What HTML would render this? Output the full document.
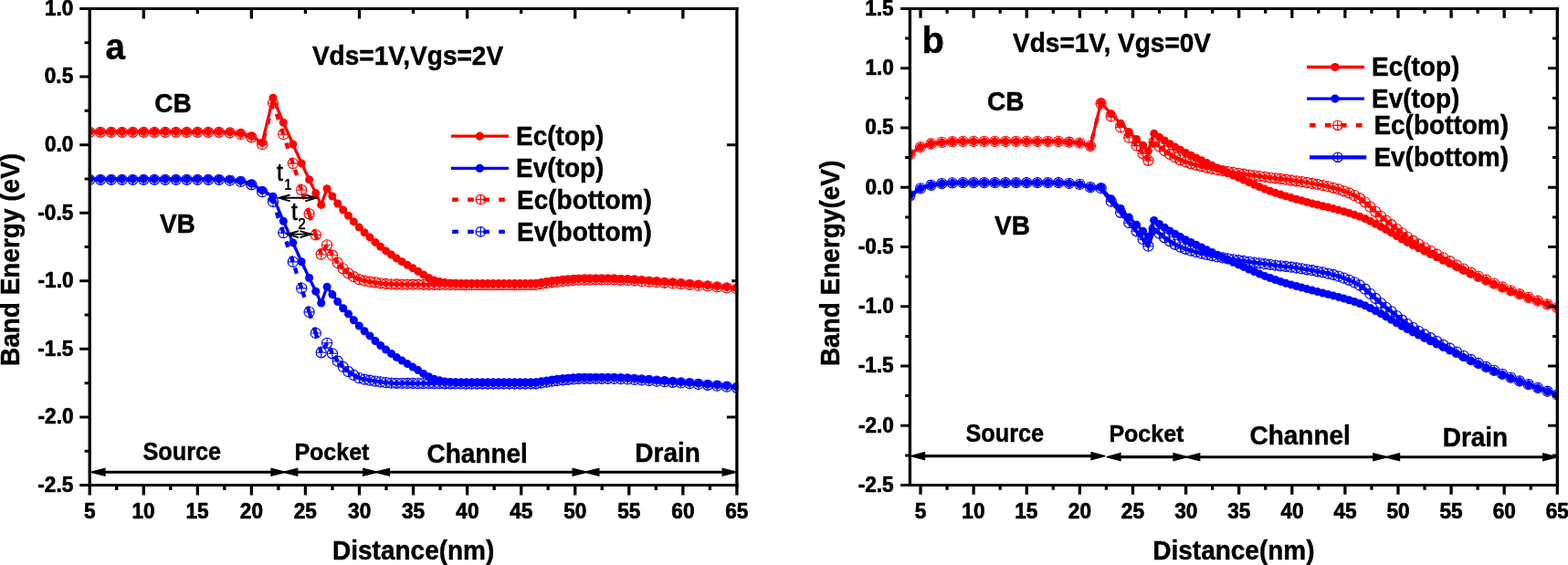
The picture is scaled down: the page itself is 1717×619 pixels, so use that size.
<!DOCTYPE html>
<html lang="en"><head><meta charset="utf-8"><title>Band Energy vs Distance</title>
<style>
html,body{margin:0;padding:0;background:#fff;}
body{width:1717px;height:619px;overflow:hidden;}
svg{display:block;font-family:"Liberation Sans",Arial,Helvetica,sans-serif;fill:#000;}
text{stroke:#000;stroke-linejoin:round;}
</style></head><body>
<svg width="1717" height="619" viewBox="0 0 1717 619">
<rect width="1717" height="619" fill="#fff"/>
<defs><clipPath id="cl"><rect x="98.2" y="9.5" width="710.2" height="521.9"/></clipPath><clipPath id="cr"><rect x="995.0" y="9.5" width="711.7" height="521.9"/></clipPath></defs>
<g clip-path="url(#cl)">
<polyline points="98.2,144.2 110.0,144.2 121.8,144.2 133.6,144.2 145.4,144.2 157.3,144.2 169.1,144.2 180.9,144.2 192.7,144.2 204.5,144.2 216.3,144.2 228.1,144.2 239.9,144.2 251.8,144.9 263.6,146.1 275.4,149.2 287.2,156.4 299.0,107.3 310.3,134.3 320.8,158.0 330.2,178.9 338.6,196.8 345.8,211.6 351.7,224.4 358.1,206.7 363.9,215.0 369.8,223.0 375.7,230.0 381.5,236.2 387.4,242.9 393.3,249.1 399.1,254.7 405.0,259.9 410.9,265.4 416.7,270.3 422.6,274.9 428.5,279.1 434.3,283.1 440.2,286.8 446.1,290.3 452.0,293.7 457.8,297.2 463.7,301.0 469.6,304.5 475.4,307.0 481.3,308.5 487.2,309.6 493.0,310.2 498.9,310.6 504.8,310.8 510.6,310.9 516.5,310.9 522.4,310.9 528.2,310.9 534.1,310.9 540.0,310.9 545.9,310.9 551.7,310.9 557.6,310.9 563.5,310.9 569.3,310.9 575.2,310.9 581.1,310.9 586.9,310.7 592.8,310.0 598.7,309.0 604.5,308.1 610.4,307.4 616.3,306.8 622.1,306.3 628.0,305.9 633.9,305.6 639.9,305.4 646.0,305.4 652.4,305.4 658.9,305.4 665.7,305.4 672.6,305.5 679.8,305.7 687.2,306.1 694.8,306.6 702.7,307.1 710.8,307.7 719.1,308.3 727.7,308.9 736.6,309.5 745.7,310.2 755.2,311.0 764.9,311.8 774.9,312.6 785.3,313.6 795.9,314.6 806.9,315.7" fill="none" stroke="#ff0000" stroke-width="3.3" stroke-linejoin="round"/>
<g fill="#ff0000"><circle cx="98.2" cy="144.2" r="4.5"/><circle cx="110.0" cy="144.2" r="4.5"/><circle cx="121.8" cy="144.2" r="4.5"/><circle cx="133.6" cy="144.2" r="4.5"/><circle cx="145.4" cy="144.2" r="4.5"/><circle cx="157.3" cy="144.2" r="4.5"/><circle cx="169.1" cy="144.2" r="4.5"/><circle cx="180.9" cy="144.2" r="4.5"/><circle cx="192.7" cy="144.2" r="4.5"/><circle cx="204.5" cy="144.2" r="4.5"/><circle cx="216.3" cy="144.2" r="4.5"/><circle cx="228.1" cy="144.2" r="4.5"/><circle cx="239.9" cy="144.2" r="4.5"/><circle cx="251.8" cy="144.9" r="4.5"/><circle cx="263.6" cy="146.1" r="4.5"/><circle cx="275.4" cy="149.2" r="4.5"/><circle cx="287.2" cy="156.4" r="4.5"/><circle cx="299.0" cy="107.3" r="4.5"/><circle cx="310.3" cy="134.3" r="4.5"/><circle cx="320.8" cy="158.0" r="4.5"/><circle cx="330.2" cy="178.9" r="4.5"/><circle cx="338.6" cy="196.8" r="4.5"/><circle cx="345.8" cy="211.6" r="4.5"/><circle cx="351.7" cy="224.4" r="4.5"/><circle cx="358.1" cy="206.7" r="4.5"/><circle cx="363.9" cy="215.0" r="4.5"/><circle cx="369.8" cy="223.0" r="4.5"/><circle cx="375.7" cy="230.0" r="4.5"/><circle cx="381.5" cy="236.2" r="4.5"/><circle cx="387.4" cy="242.9" r="4.5"/><circle cx="393.3" cy="249.1" r="4.5"/><circle cx="399.1" cy="254.7" r="4.5"/><circle cx="405.0" cy="259.9" r="4.5"/><circle cx="410.9" cy="265.4" r="4.5"/><circle cx="416.7" cy="270.3" r="4.5"/><circle cx="422.6" cy="274.9" r="4.5"/><circle cx="428.5" cy="279.1" r="4.5"/><circle cx="434.3" cy="283.1" r="4.5"/><circle cx="440.2" cy="286.8" r="4.5"/><circle cx="446.1" cy="290.3" r="4.5"/><circle cx="452.0" cy="293.7" r="4.5"/><circle cx="457.8" cy="297.2" r="4.5"/><circle cx="463.7" cy="301.0" r="4.5"/><circle cx="469.6" cy="304.5" r="4.5"/><circle cx="475.4" cy="307.0" r="4.5"/><circle cx="481.3" cy="308.5" r="4.5"/><circle cx="487.2" cy="309.6" r="4.5"/><circle cx="493.0" cy="310.2" r="4.5"/><circle cx="498.9" cy="310.6" r="4.5"/><circle cx="504.8" cy="310.8" r="4.5"/><circle cx="510.6" cy="310.9" r="4.5"/><circle cx="516.5" cy="310.9" r="4.5"/><circle cx="522.4" cy="310.9" r="4.5"/><circle cx="528.2" cy="310.9" r="4.5"/><circle cx="534.1" cy="310.9" r="4.5"/><circle cx="540.0" cy="310.9" r="4.5"/><circle cx="545.9" cy="310.9" r="4.5"/><circle cx="551.7" cy="310.9" r="4.5"/><circle cx="557.6" cy="310.9" r="4.5"/><circle cx="563.5" cy="310.9" r="4.5"/><circle cx="569.3" cy="310.9" r="4.5"/><circle cx="575.2" cy="310.9" r="4.5"/><circle cx="581.1" cy="310.9" r="4.5"/><circle cx="586.9" cy="310.7" r="4.5"/><circle cx="592.8" cy="310.0" r="4.5"/><circle cx="598.7" cy="309.0" r="4.5"/><circle cx="604.5" cy="308.1" r="4.5"/><circle cx="610.4" cy="307.4" r="4.5"/><circle cx="616.3" cy="306.8" r="4.5"/><circle cx="622.1" cy="306.3" r="4.5"/><circle cx="628.0" cy="305.9" r="4.5"/><circle cx="633.9" cy="305.6" r="4.5"/><circle cx="639.9" cy="305.4" r="4.5"/><circle cx="646.0" cy="305.4" r="4.5"/><circle cx="652.4" cy="305.4" r="4.5"/><circle cx="658.9" cy="305.4" r="4.5"/><circle cx="665.7" cy="305.4" r="4.5"/><circle cx="672.6" cy="305.5" r="4.5"/><circle cx="679.8" cy="305.7" r="4.5"/><circle cx="687.2" cy="306.1" r="4.5"/><circle cx="694.8" cy="306.6" r="4.5"/><circle cx="702.7" cy="307.1" r="4.5"/><circle cx="710.8" cy="307.7" r="4.5"/><circle cx="719.1" cy="308.3" r="4.5"/><circle cx="727.7" cy="308.9" r="4.5"/><circle cx="736.6" cy="309.5" r="4.5"/><circle cx="745.7" cy="310.2" r="4.5"/><circle cx="755.2" cy="311.0" r="4.5"/><circle cx="764.9" cy="311.8" r="4.5"/><circle cx="774.9" cy="312.6" r="4.5"/><circle cx="785.3" cy="313.6" r="4.5"/><circle cx="795.9" cy="314.6" r="4.5"/><circle cx="806.9" cy="315.7" r="4.5"/></g>
<polyline points="98.2,196.2 110.0,196.2 121.8,196.2 133.6,196.2 145.4,196.2 157.3,196.2 169.1,196.2 180.9,196.2 192.7,196.2 204.5,196.2 216.3,196.2 228.1,196.2 239.9,196.2 251.8,197.0 263.6,198.2 275.4,201.3 287.2,208.5 299.0,215.3 310.3,242.2 320.8,265.9 330.2,286.7 338.6,304.5 345.8,319.2 351.7,332.0 358.1,314.2 363.9,322.6 369.8,330.6 375.7,337.7 381.5,343.9 387.4,350.7 393.3,357.0 399.1,362.7 405.0,367.9 410.9,373.5 416.7,378.5 422.6,383.1 428.5,387.4 434.3,391.4 440.2,395.1 446.1,398.6 452.0,402.1 457.8,405.6 463.7,409.4 469.6,412.8 475.4,415.3 481.3,416.8 487.2,418.0 493.0,418.6 498.9,418.9 504.8,419.2 510.6,419.3 516.5,419.3 522.4,419.3 528.2,419.3 534.1,419.3 540.0,419.3 545.9,419.3 551.7,419.3 557.6,419.3 563.5,419.3 569.3,419.3 575.2,419.3 581.1,419.3 586.9,419.1 592.8,418.3 598.7,417.4 604.5,416.5 610.4,415.8 616.3,415.1 622.1,414.6 628.0,414.2 633.9,413.9 639.9,413.8 646.0,413.8 652.4,413.8 658.9,413.8 665.7,413.8 672.6,413.8 679.8,414.1 687.2,414.4 694.8,414.9 702.7,415.5 710.8,416.1 719.1,416.7 727.7,417.3 736.6,417.9 745.7,418.6 755.2,419.3 764.9,420.1 774.9,421.0 785.3,421.9 795.9,422.9 806.9,424.0" fill="none" stroke="#0000ff" stroke-width="3.3" stroke-linejoin="round"/>
<g fill="#0000ff"><circle cx="98.2" cy="196.2" r="4.5"/><circle cx="110.0" cy="196.2" r="4.5"/><circle cx="121.8" cy="196.2" r="4.5"/><circle cx="133.6" cy="196.2" r="4.5"/><circle cx="145.4" cy="196.2" r="4.5"/><circle cx="157.3" cy="196.2" r="4.5"/><circle cx="169.1" cy="196.2" r="4.5"/><circle cx="180.9" cy="196.2" r="4.5"/><circle cx="192.7" cy="196.2" r="4.5"/><circle cx="204.5" cy="196.2" r="4.5"/><circle cx="216.3" cy="196.2" r="4.5"/><circle cx="228.1" cy="196.2" r="4.5"/><circle cx="239.9" cy="196.2" r="4.5"/><circle cx="251.8" cy="197.0" r="4.5"/><circle cx="263.6" cy="198.2" r="4.5"/><circle cx="275.4" cy="201.3" r="4.5"/><circle cx="287.2" cy="208.5" r="4.5"/><circle cx="299.0" cy="215.3" r="4.5"/><circle cx="310.3" cy="242.2" r="4.5"/><circle cx="320.8" cy="265.9" r="4.5"/><circle cx="330.2" cy="286.7" r="4.5"/><circle cx="338.6" cy="304.5" r="4.5"/><circle cx="345.8" cy="319.2" r="4.5"/><circle cx="351.7" cy="332.0" r="4.5"/><circle cx="358.1" cy="314.2" r="4.5"/><circle cx="363.9" cy="322.6" r="4.5"/><circle cx="369.8" cy="330.6" r="4.5"/><circle cx="375.7" cy="337.7" r="4.5"/><circle cx="381.5" cy="343.9" r="4.5"/><circle cx="387.4" cy="350.7" r="4.5"/><circle cx="393.3" cy="357.0" r="4.5"/><circle cx="399.1" cy="362.7" r="4.5"/><circle cx="405.0" cy="367.9" r="4.5"/><circle cx="410.9" cy="373.5" r="4.5"/><circle cx="416.7" cy="378.5" r="4.5"/><circle cx="422.6" cy="383.1" r="4.5"/><circle cx="428.5" cy="387.4" r="4.5"/><circle cx="434.3" cy="391.4" r="4.5"/><circle cx="440.2" cy="395.1" r="4.5"/><circle cx="446.1" cy="398.6" r="4.5"/><circle cx="452.0" cy="402.1" r="4.5"/><circle cx="457.8" cy="405.6" r="4.5"/><circle cx="463.7" cy="409.4" r="4.5"/><circle cx="469.6" cy="412.8" r="4.5"/><circle cx="475.4" cy="415.3" r="4.5"/><circle cx="481.3" cy="416.8" r="4.5"/><circle cx="487.2" cy="418.0" r="4.5"/><circle cx="493.0" cy="418.6" r="4.5"/><circle cx="498.9" cy="418.9" r="4.5"/><circle cx="504.8" cy="419.2" r="4.5"/><circle cx="510.6" cy="419.3" r="4.5"/><circle cx="516.5" cy="419.3" r="4.5"/><circle cx="522.4" cy="419.3" r="4.5"/><circle cx="528.2" cy="419.3" r="4.5"/><circle cx="534.1" cy="419.3" r="4.5"/><circle cx="540.0" cy="419.3" r="4.5"/><circle cx="545.9" cy="419.3" r="4.5"/><circle cx="551.7" cy="419.3" r="4.5"/><circle cx="557.6" cy="419.3" r="4.5"/><circle cx="563.5" cy="419.3" r="4.5"/><circle cx="569.3" cy="419.3" r="4.5"/><circle cx="575.2" cy="419.3" r="4.5"/><circle cx="581.1" cy="419.3" r="4.5"/><circle cx="586.9" cy="419.1" r="4.5"/><circle cx="592.8" cy="418.3" r="4.5"/><circle cx="598.7" cy="417.4" r="4.5"/><circle cx="604.5" cy="416.5" r="4.5"/><circle cx="610.4" cy="415.8" r="4.5"/><circle cx="616.3" cy="415.1" r="4.5"/><circle cx="622.1" cy="414.6" r="4.5"/><circle cx="628.0" cy="414.2" r="4.5"/><circle cx="633.9" cy="413.9" r="4.5"/><circle cx="639.9" cy="413.8" r="4.5"/><circle cx="646.0" cy="413.8" r="4.5"/><circle cx="652.4" cy="413.8" r="4.5"/><circle cx="658.9" cy="413.8" r="4.5"/><circle cx="665.7" cy="413.8" r="4.5"/><circle cx="672.6" cy="413.8" r="4.5"/><circle cx="679.8" cy="414.1" r="4.5"/><circle cx="687.2" cy="414.4" r="4.5"/><circle cx="694.8" cy="414.9" r="4.5"/><circle cx="702.7" cy="415.5" r="4.5"/><circle cx="710.8" cy="416.1" r="4.5"/><circle cx="719.1" cy="416.7" r="4.5"/><circle cx="727.7" cy="417.3" r="4.5"/><circle cx="736.6" cy="417.9" r="4.5"/><circle cx="745.7" cy="418.6" r="4.5"/><circle cx="755.2" cy="419.3" r="4.5"/><circle cx="764.9" cy="420.1" r="4.5"/><circle cx="774.9" cy="421.0" r="4.5"/><circle cx="785.3" cy="421.9" r="4.5"/><circle cx="795.9" cy="422.9" r="4.5"/><circle cx="806.9" cy="424.0" r="4.5"/></g>
<path d="M110.0 144.8L98.2 144.8M121.8 144.8L110.0 144.8M133.6 144.8L121.8 144.8M145.4 144.8L133.6 144.8M157.3 144.8L145.4 144.8M169.1 144.8L157.3 144.8M180.9 144.8L169.1 144.8M192.7 144.8L180.9 144.8M204.5 144.8L192.7 144.8M216.3 144.8L204.5 144.8M228.1 144.8L216.3 144.8M239.9 144.8L228.1 144.8M251.8 145.5L239.9 144.8M263.6 146.9L251.8 145.5M275.4 150.3L263.6 146.9M287.2 158.2L275.4 150.3M299.0 113.0L287.2 158.2M310.3 147.2L299.0 113.0M320.8 179.1L310.3 147.2M330.2 208.2L320.8 179.1M338.6 234.3L330.2 208.2M345.8 257.4L338.6 234.3M351.7 278.7L345.8 257.4M358.1 268.3L351.7 278.7M363.9 279.7L358.1 268.3M369.8 288.0L363.9 279.7M375.7 294.3L369.8 288.0M381.5 299.5L375.7 294.3M387.4 303.2L381.5 299.5M393.3 306.2L387.4 303.2M399.1 307.7L393.3 306.2M405.0 308.7L399.1 307.7M410.9 309.5L405.0 308.7M416.7 310.3L410.9 309.5M422.6 311.0L416.7 310.3M428.5 311.4L422.6 311.0M434.3 311.5L428.5 311.4M440.2 311.6L434.3 311.5M446.1 311.6L440.2 311.6M452.0 311.7L446.1 311.6M457.8 311.7L452.0 311.7M463.7 311.8L457.8 311.7M469.6 311.8L463.7 311.8M475.4 311.9L469.6 311.8M481.3 311.9L475.4 311.9M487.2 311.9L481.3 311.9M493.0 312.0L487.2 311.9M498.9 312.0L493.0 312.0M504.8 312.1L498.9 312.0M510.6 312.1L504.8 312.1M516.5 312.1L510.6 312.1M522.4 312.1L516.5 312.1M528.2 312.1L522.4 312.1M534.1 312.1L528.2 312.1M540.0 312.1L534.1 312.1M545.9 312.1L540.0 312.1M551.7 312.1L545.9 312.1M557.6 312.1L551.7 312.1M563.5 312.1L557.6 312.1M569.3 312.1L563.5 312.1M575.2 312.1L569.3 312.1M581.1 312.1L575.2 312.1M586.9 311.9L581.1 312.1M592.8 311.2L586.9 311.9M598.7 310.2L592.8 311.2M604.5 309.3L598.7 310.2M610.4 308.6L604.5 309.3M616.3 308.0L610.4 308.6M622.1 307.5L616.3 308.0M628.0 307.0L622.1 307.5M633.9 306.7L628.0 307.0M639.9 306.5L633.9 306.7M646.0 306.4L639.9 306.5M652.4 306.4L646.0 306.4M658.9 306.4L652.4 306.4M665.7 306.4L658.9 306.4M672.6 306.5L665.7 306.4M679.8 306.8L672.6 306.5M687.2 307.1L679.8 306.8M694.8 307.5L687.2 307.1M702.7 308.1L694.8 307.5M710.8 308.6L702.7 308.1M719.1 309.2L710.8 308.6M727.7 309.8L719.1 309.2M736.6 310.4L727.7 309.8M745.7 311.1L736.6 310.4M755.2 311.8L745.7 311.1M764.9 312.6L755.2 311.8M774.9 313.4L764.9 312.6M785.3 314.4L774.9 313.4M795.9 315.4L785.3 314.4M806.9 316.4L795.9 315.4" fill="none" stroke="#ff0000" stroke-width="4.3" stroke-dasharray="6.6 10.4"/>
<g fill="none" stroke="#ff0000" stroke-width="1.1"><circle cx="98.2" cy="144.8" r="5.6"/><path d="M92.6 144.8h11.2M98.2 139.2v11.2"/><circle cx="110.0" cy="144.8" r="5.6"/><path d="M104.4 144.8h11.2M110.0 139.2v11.2"/><circle cx="121.8" cy="144.8" r="5.6"/><path d="M116.2 144.8h11.2M121.8 139.2v11.2"/><circle cx="133.6" cy="144.8" r="5.6"/><path d="M128.0 144.8h11.2M133.6 139.2v11.2"/><circle cx="145.4" cy="144.8" r="5.6"/><path d="M139.8 144.8h11.2M145.4 139.2v11.2"/><circle cx="157.3" cy="144.8" r="5.6"/><path d="M151.7 144.8h11.2M157.3 139.2v11.2"/><circle cx="169.1" cy="144.8" r="5.6"/><path d="M163.5 144.8h11.2M169.1 139.2v11.2"/><circle cx="180.9" cy="144.8" r="5.6"/><path d="M175.3 144.8h11.2M180.9 139.2v11.2"/><circle cx="192.7" cy="144.8" r="5.6"/><path d="M187.1 144.8h11.2M192.7 139.2v11.2"/><circle cx="204.5" cy="144.8" r="5.6"/><path d="M198.9 144.8h11.2M204.5 139.2v11.2"/><circle cx="216.3" cy="144.8" r="5.6"/><path d="M210.7 144.8h11.2M216.3 139.2v11.2"/><circle cx="228.1" cy="144.8" r="5.6"/><path d="M222.5 144.8h11.2M228.1 139.2v11.2"/><circle cx="239.9" cy="144.8" r="5.6"/><path d="M234.3 144.8h11.2M239.9 139.2v11.2"/><circle cx="251.8" cy="145.5" r="5.6"/><path d="M246.2 145.5h11.2M251.8 139.9v11.2"/><circle cx="263.6" cy="146.9" r="5.6"/><path d="M258.0 146.9h11.2M263.6 141.3v11.2"/><circle cx="275.4" cy="150.3" r="5.6"/><path d="M269.8 150.3h11.2M275.4 144.7v11.2"/><circle cx="287.2" cy="158.2" r="5.6"/><path d="M281.6 158.2h11.2M287.2 152.6v11.2"/><circle cx="299.0" cy="113.0" r="5.6"/><path d="M293.4 113.0h11.2M299.0 107.4v11.2"/><circle cx="310.3" cy="147.2" r="5.6"/><path d="M304.7 147.2h11.2M310.3 141.6v11.2"/><circle cx="320.8" cy="179.1" r="5.6"/><path d="M315.2 179.1h11.2M320.8 173.5v11.2"/><circle cx="330.2" cy="208.2" r="5.6"/><path d="M324.6 208.2h11.2M330.2 202.6v11.2"/><circle cx="338.6" cy="234.3" r="5.6"/><path d="M333.0 234.3h11.2M338.6 228.7v11.2"/><circle cx="345.8" cy="257.4" r="5.6"/><path d="M340.2 257.4h11.2M345.8 251.8v11.2"/><circle cx="351.7" cy="278.7" r="5.6"/><path d="M346.1 278.7h11.2M351.7 273.1v11.2"/><circle cx="358.1" cy="268.3" r="5.6"/><path d="M352.5 268.3h11.2M358.1 262.7v11.2"/><circle cx="363.9" cy="279.7" r="5.6"/><path d="M358.3 279.7h11.2M363.9 274.1v11.2"/><circle cx="369.8" cy="288.0" r="5.6"/><path d="M364.2 288.0h11.2M369.8 282.4v11.2"/><circle cx="375.7" cy="294.3" r="5.6"/><path d="M370.1 294.3h11.2M375.7 288.7v11.2"/><circle cx="381.5" cy="299.5" r="5.6"/><path d="M375.9 299.5h11.2M381.5 293.9v11.2"/><circle cx="387.4" cy="303.2" r="5.6"/><path d="M381.8 303.2h11.2M387.4 297.6v11.2"/><circle cx="393.3" cy="306.2" r="5.6"/><path d="M387.7 306.2h11.2M393.3 300.6v11.2"/><circle cx="399.1" cy="307.7" r="5.6"/><path d="M393.5 307.7h11.2M399.1 302.1v11.2"/><circle cx="405.0" cy="308.7" r="5.6"/><path d="M399.4 308.7h11.2M405.0 303.1v11.2"/><circle cx="410.9" cy="309.5" r="5.6"/><path d="M405.3 309.5h11.2M410.9 303.9v11.2"/><circle cx="416.7" cy="310.3" r="5.6"/><path d="M411.1 310.3h11.2M416.7 304.7v11.2"/><circle cx="422.6" cy="311.0" r="5.6"/><path d="M417.0 311.0h11.2M422.6 305.4v11.2"/><circle cx="428.5" cy="311.4" r="5.6"/><path d="M422.9 311.4h11.2M428.5 305.8v11.2"/><circle cx="434.3" cy="311.5" r="5.6"/><path d="M428.7 311.5h11.2M434.3 305.9v11.2"/><circle cx="440.2" cy="311.6" r="5.6"/><path d="M434.6 311.6h11.2M440.2 306.0v11.2"/><circle cx="446.1" cy="311.6" r="5.6"/><path d="M440.5 311.6h11.2M446.1 306.0v11.2"/><circle cx="452.0" cy="311.7" r="5.6"/><path d="M446.4 311.7h11.2M452.0 306.1v11.2"/><circle cx="457.8" cy="311.7" r="5.6"/><path d="M452.2 311.7h11.2M457.8 306.1v11.2"/><circle cx="463.7" cy="311.8" r="5.6"/><path d="M458.1 311.8h11.2M463.7 306.2v11.2"/><circle cx="469.6" cy="311.8" r="5.6"/><path d="M464.0 311.8h11.2M469.6 306.2v11.2"/><circle cx="475.4" cy="311.9" r="5.6"/><path d="M469.8 311.9h11.2M475.4 306.3v11.2"/><circle cx="481.3" cy="311.9" r="5.6"/><path d="M475.7 311.9h11.2M481.3 306.3v11.2"/><circle cx="487.2" cy="311.9" r="5.6"/><path d="M481.6 311.9h11.2M487.2 306.3v11.2"/><circle cx="493.0" cy="312.0" r="5.6"/><path d="M487.4 312.0h11.2M493.0 306.4v11.2"/><circle cx="498.9" cy="312.0" r="5.6"/><path d="M493.3 312.0h11.2M498.9 306.4v11.2"/><circle cx="504.8" cy="312.1" r="5.6"/><path d="M499.2 312.1h11.2M504.8 306.5v11.2"/><circle cx="510.6" cy="312.1" r="5.6"/><path d="M505.0 312.1h11.2M510.6 306.5v11.2"/><circle cx="516.5" cy="312.1" r="5.6"/><path d="M510.9 312.1h11.2M516.5 306.5v11.2"/><circle cx="522.4" cy="312.1" r="5.6"/><path d="M516.8 312.1h11.2M522.4 306.5v11.2"/><circle cx="528.2" cy="312.1" r="5.6"/><path d="M522.6 312.1h11.2M528.2 306.5v11.2"/><circle cx="534.1" cy="312.1" r="5.6"/><path d="M528.5 312.1h11.2M534.1 306.5v11.2"/><circle cx="540.0" cy="312.1" r="5.6"/><path d="M534.4 312.1h11.2M540.0 306.5v11.2"/><circle cx="545.9" cy="312.1" r="5.6"/><path d="M540.3 312.1h11.2M545.9 306.5v11.2"/><circle cx="551.7" cy="312.1" r="5.6"/><path d="M546.1 312.1h11.2M551.7 306.5v11.2"/><circle cx="557.6" cy="312.1" r="5.6"/><path d="M552.0 312.1h11.2M557.6 306.5v11.2"/><circle cx="563.5" cy="312.1" r="5.6"/><path d="M557.9 312.1h11.2M563.5 306.5v11.2"/><circle cx="569.3" cy="312.1" r="5.6"/><path d="M563.7 312.1h11.2M569.3 306.5v11.2"/><circle cx="575.2" cy="312.1" r="5.6"/><path d="M569.6 312.1h11.2M575.2 306.5v11.2"/><circle cx="581.1" cy="312.1" r="5.6"/><path d="M575.5 312.1h11.2M581.1 306.5v11.2"/><circle cx="586.9" cy="311.9" r="5.6"/><path d="M581.3 311.9h11.2M586.9 306.3v11.2"/><circle cx="592.8" cy="311.2" r="5.6"/><path d="M587.2 311.2h11.2M592.8 305.6v11.2"/><circle cx="598.7" cy="310.2" r="5.6"/><path d="M593.1 310.2h11.2M598.7 304.6v11.2"/><circle cx="604.5" cy="309.3" r="5.6"/><path d="M598.9 309.3h11.2M604.5 303.7v11.2"/><circle cx="610.4" cy="308.6" r="5.6"/><path d="M604.8 308.6h11.2M610.4 303.0v11.2"/><circle cx="616.3" cy="308.0" r="5.6"/><path d="M610.7 308.0h11.2M616.3 302.4v11.2"/><circle cx="622.1" cy="307.5" r="5.6"/><path d="M616.5 307.5h11.2M622.1 301.9v11.2"/><circle cx="628.0" cy="307.0" r="5.6"/><path d="M622.4 307.0h11.2M628.0 301.4v11.2"/><circle cx="633.9" cy="306.7" r="5.6"/><path d="M628.3 306.7h11.2M633.9 301.1v11.2"/><circle cx="639.9" cy="306.5" r="5.6"/><path d="M634.3 306.5h11.2M639.9 300.9v11.2"/><circle cx="646.0" cy="306.4" r="5.6"/><path d="M640.4 306.4h11.2M646.0 300.8v11.2"/><circle cx="652.4" cy="306.4" r="5.6"/><path d="M646.8 306.4h11.2M652.4 300.8v11.2"/><circle cx="658.9" cy="306.4" r="5.6"/><path d="M653.3 306.4h11.2M658.9 300.8v11.2"/><circle cx="665.7" cy="306.4" r="5.6"/><path d="M660.1 306.4h11.2M665.7 300.8v11.2"/><circle cx="672.6" cy="306.5" r="5.6"/><path d="M667.0 306.5h11.2M672.6 300.9v11.2"/><circle cx="679.8" cy="306.8" r="5.6"/><path d="M674.2 306.8h11.2M679.8 301.2v11.2"/><circle cx="687.2" cy="307.1" r="5.6"/><path d="M681.6 307.1h11.2M687.2 301.5v11.2"/><circle cx="694.8" cy="307.5" r="5.6"/><path d="M689.2 307.5h11.2M694.8 301.9v11.2"/><circle cx="702.7" cy="308.1" r="5.6"/><path d="M697.1 308.1h11.2M702.7 302.5v11.2"/><circle cx="710.8" cy="308.6" r="5.6"/><path d="M705.2 308.6h11.2M710.8 303.0v11.2"/><circle cx="719.1" cy="309.2" r="5.6"/><path d="M713.5 309.2h11.2M719.1 303.6v11.2"/><circle cx="727.7" cy="309.8" r="5.6"/><path d="M722.1 309.8h11.2M727.7 304.2v11.2"/><circle cx="736.6" cy="310.4" r="5.6"/><path d="M731.0 310.4h11.2M736.6 304.8v11.2"/><circle cx="745.7" cy="311.1" r="5.6"/><path d="M740.1 311.1h11.2M745.7 305.5v11.2"/><circle cx="755.2" cy="311.8" r="5.6"/><path d="M749.6 311.8h11.2M755.2 306.2v11.2"/><circle cx="764.9" cy="312.6" r="5.6"/><path d="M759.3 312.6h11.2M764.9 307.0v11.2"/><circle cx="774.9" cy="313.4" r="5.6"/><path d="M769.3 313.4h11.2M774.9 307.8v11.2"/><circle cx="785.3" cy="314.4" r="5.6"/><path d="M779.7 314.4h11.2M785.3 308.8v11.2"/><circle cx="795.9" cy="315.4" r="5.6"/><path d="M790.3 315.4h11.2M795.9 309.8v11.2"/><circle cx="806.9" cy="316.4" r="5.6"/><path d="M801.3 316.4h11.2M806.9 310.8v11.2"/></g>
<path d="M110.0 196.8L98.2 196.8M121.8 196.8L110.0 196.8M133.6 196.8L121.8 196.8M145.4 196.8L133.6 196.8M157.3 196.8L145.4 196.8M169.1 196.8L157.3 196.8M180.9 196.8L169.1 196.8M192.7 196.8L180.9 196.8M204.5 196.8L192.7 196.8M216.3 196.8L204.5 196.8M228.1 196.8L216.3 196.8M239.9 196.8L228.1 196.8M251.8 197.6L239.9 196.8M263.6 198.9L251.8 197.6M275.4 202.3L263.6 198.9M287.2 210.2L275.4 202.3M299.0 221.0L287.2 210.2M310.3 255.1L299.0 221.0M320.8 286.9L310.3 255.1M330.2 315.9L320.8 286.9M338.6 341.9L330.2 315.9M345.8 365.0L338.6 341.9M351.7 386.3L345.8 365.0M358.1 375.8L351.7 386.3M363.9 387.3L358.1 375.8M369.8 395.7L363.9 387.3M375.7 402.0L369.8 395.7M381.5 407.2L375.7 402.0M387.4 411.0L381.5 407.2M393.3 414.1L387.4 411.0M399.1 415.7L393.3 414.1M405.0 416.7L399.1 415.7M410.9 417.6L405.0 416.7M416.7 418.4L410.9 417.6M422.6 419.1L416.7 418.4M428.5 419.6L422.6 419.1M434.3 419.8L428.5 419.6M440.2 419.9L434.3 419.8M446.1 420.0L440.2 419.9M452.0 420.0L446.1 420.0M457.8 420.1L452.0 420.0M463.7 420.1L457.8 420.1M469.6 420.2L463.7 420.1M475.4 420.2L469.6 420.2M481.3 420.2L475.4 420.2M487.2 420.3L481.3 420.2M493.0 420.3L487.2 420.3M498.9 420.4L493.0 420.3M504.8 420.4L498.9 420.4M510.6 420.5L504.8 420.4M516.5 420.5L510.6 420.5M522.4 420.5L516.5 420.5M528.2 420.5L522.4 420.5M534.1 420.5L528.2 420.5M540.0 420.5L534.1 420.5M545.9 420.5L540.0 420.5M551.7 420.5L545.9 420.5M557.6 420.5L551.7 420.5M563.5 420.5L557.6 420.5M569.3 420.5L563.5 420.5M575.2 420.5L569.3 420.5M581.1 420.5L575.2 420.5M586.9 420.3L581.1 420.5M592.8 419.5L586.9 420.3M598.7 418.6L592.8 419.5M604.5 417.7L598.7 418.6M610.4 417.0L604.5 417.7M616.3 416.3L610.4 417.0M622.1 415.8L616.3 416.3M628.0 415.4L622.1 415.8M633.9 415.0L628.0 415.4M639.9 414.8L633.9 415.0M646.0 414.8L639.9 414.8M652.4 414.8L646.0 414.8M658.9 414.8L652.4 414.8M665.7 414.8L658.9 414.8M672.6 414.9L665.7 414.8M679.8 415.1L672.6 414.9M687.2 415.4L679.8 415.1M694.8 415.9L687.2 415.4M702.7 416.4L694.8 415.9M710.8 417.0L702.7 416.4M719.1 417.6L710.8 417.0M727.7 418.2L719.1 417.6M736.6 418.8L727.7 418.2M745.7 419.4L736.6 418.8M755.2 420.1L745.7 419.4M764.9 420.9L755.2 420.1M774.9 421.8L764.9 420.9M785.3 422.7L774.9 421.8M795.9 423.7L785.3 422.7M806.9 424.8L795.9 423.7" fill="none" stroke="#0000ff" stroke-width="4.3" stroke-dasharray="6.6 10.4"/>
<g fill="none" stroke="#0000ff" stroke-width="1.1"><circle cx="98.2" cy="196.8" r="5.6"/><path d="M92.6 196.8h11.2M98.2 191.2v11.2"/><circle cx="110.0" cy="196.8" r="5.6"/><path d="M104.4 196.8h11.2M110.0 191.2v11.2"/><circle cx="121.8" cy="196.8" r="5.6"/><path d="M116.2 196.8h11.2M121.8 191.2v11.2"/><circle cx="133.6" cy="196.8" r="5.6"/><path d="M128.0 196.8h11.2M133.6 191.2v11.2"/><circle cx="145.4" cy="196.8" r="5.6"/><path d="M139.8 196.8h11.2M145.4 191.2v11.2"/><circle cx="157.3" cy="196.8" r="5.6"/><path d="M151.7 196.8h11.2M157.3 191.2v11.2"/><circle cx="169.1" cy="196.8" r="5.6"/><path d="M163.5 196.8h11.2M169.1 191.2v11.2"/><circle cx="180.9" cy="196.8" r="5.6"/><path d="M175.3 196.8h11.2M180.9 191.2v11.2"/><circle cx="192.7" cy="196.8" r="5.6"/><path d="M187.1 196.8h11.2M192.7 191.2v11.2"/><circle cx="204.5" cy="196.8" r="5.6"/><path d="M198.9 196.8h11.2M204.5 191.2v11.2"/><circle cx="216.3" cy="196.8" r="5.6"/><path d="M210.7 196.8h11.2M216.3 191.2v11.2"/><circle cx="228.1" cy="196.8" r="5.6"/><path d="M222.5 196.8h11.2M228.1 191.2v11.2"/><circle cx="239.9" cy="196.8" r="5.6"/><path d="M234.3 196.8h11.2M239.9 191.2v11.2"/><circle cx="251.8" cy="197.6" r="5.6"/><path d="M246.2 197.6h11.2M251.8 192.0v11.2"/><circle cx="263.6" cy="198.9" r="5.6"/><path d="M258.0 198.9h11.2M263.6 193.3v11.2"/><circle cx="275.4" cy="202.3" r="5.6"/><path d="M269.8 202.3h11.2M275.4 196.7v11.2"/><circle cx="287.2" cy="210.2" r="5.6"/><path d="M281.6 210.2h11.2M287.2 204.6v11.2"/><circle cx="299.0" cy="221.0" r="5.6"/><path d="M293.4 221.0h11.2M299.0 215.4v11.2"/><circle cx="310.3" cy="255.1" r="5.6"/><path d="M304.7 255.1h11.2M310.3 249.5v11.2"/><circle cx="320.8" cy="286.9" r="5.6"/><path d="M315.2 286.9h11.2M320.8 281.3v11.2"/><circle cx="330.2" cy="315.9" r="5.6"/><path d="M324.6 315.9h11.2M330.2 310.3v11.2"/><circle cx="338.6" cy="341.9" r="5.6"/><path d="M333.0 341.9h11.2M338.6 336.3v11.2"/><circle cx="345.8" cy="365.0" r="5.6"/><path d="M340.2 365.0h11.2M345.8 359.4v11.2"/><circle cx="351.7" cy="386.3" r="5.6"/><path d="M346.1 386.3h11.2M351.7 380.7v11.2"/><circle cx="358.1" cy="375.8" r="5.6"/><path d="M352.5 375.8h11.2M358.1 370.2v11.2"/><circle cx="363.9" cy="387.3" r="5.6"/><path d="M358.3 387.3h11.2M363.9 381.7v11.2"/><circle cx="369.8" cy="395.7" r="5.6"/><path d="M364.2 395.7h11.2M369.8 390.1v11.2"/><circle cx="375.7" cy="402.0" r="5.6"/><path d="M370.1 402.0h11.2M375.7 396.4v11.2"/><circle cx="381.5" cy="407.2" r="5.6"/><path d="M375.9 407.2h11.2M381.5 401.6v11.2"/><circle cx="387.4" cy="411.0" r="5.6"/><path d="M381.8 411.0h11.2M387.4 405.4v11.2"/><circle cx="393.3" cy="414.1" r="5.6"/><path d="M387.7 414.1h11.2M393.3 408.5v11.2"/><circle cx="399.1" cy="415.7" r="5.6"/><path d="M393.5 415.7h11.2M399.1 410.1v11.2"/><circle cx="405.0" cy="416.7" r="5.6"/><path d="M399.4 416.7h11.2M405.0 411.1v11.2"/><circle cx="410.9" cy="417.6" r="5.6"/><path d="M405.3 417.6h11.2M410.9 412.0v11.2"/><circle cx="416.7" cy="418.4" r="5.6"/><path d="M411.1 418.4h11.2M416.7 412.8v11.2"/><circle cx="422.6" cy="419.1" r="5.6"/><path d="M417.0 419.1h11.2M422.6 413.5v11.2"/><circle cx="428.5" cy="419.6" r="5.6"/><path d="M422.9 419.6h11.2M428.5 414.0v11.2"/><circle cx="434.3" cy="419.8" r="5.6"/><path d="M428.7 419.8h11.2M434.3 414.2v11.2"/><circle cx="440.2" cy="419.9" r="5.6"/><path d="M434.6 419.9h11.2M440.2 414.3v11.2"/><circle cx="446.1" cy="420.0" r="5.6"/><path d="M440.5 420.0h11.2M446.1 414.4v11.2"/><circle cx="452.0" cy="420.0" r="5.6"/><path d="M446.4 420.0h11.2M452.0 414.4v11.2"/><circle cx="457.8" cy="420.1" r="5.6"/><path d="M452.2 420.1h11.2M457.8 414.5v11.2"/><circle cx="463.7" cy="420.1" r="5.6"/><path d="M458.1 420.1h11.2M463.7 414.5v11.2"/><circle cx="469.6" cy="420.2" r="5.6"/><path d="M464.0 420.2h11.2M469.6 414.6v11.2"/><circle cx="475.4" cy="420.2" r="5.6"/><path d="M469.8 420.2h11.2M475.4 414.6v11.2"/><circle cx="481.3" cy="420.2" r="5.6"/><path d="M475.7 420.2h11.2M481.3 414.6v11.2"/><circle cx="487.2" cy="420.3" r="5.6"/><path d="M481.6 420.3h11.2M487.2 414.7v11.2"/><circle cx="493.0" cy="420.3" r="5.6"/><path d="M487.4 420.3h11.2M493.0 414.7v11.2"/><circle cx="498.9" cy="420.4" r="5.6"/><path d="M493.3 420.4h11.2M498.9 414.8v11.2"/><circle cx="504.8" cy="420.4" r="5.6"/><path d="M499.2 420.4h11.2M504.8 414.8v11.2"/><circle cx="510.6" cy="420.5" r="5.6"/><path d="M505.0 420.5h11.2M510.6 414.9v11.2"/><circle cx="516.5" cy="420.5" r="5.6"/><path d="M510.9 420.5h11.2M516.5 414.9v11.2"/><circle cx="522.4" cy="420.5" r="5.6"/><path d="M516.8 420.5h11.2M522.4 414.9v11.2"/><circle cx="528.2" cy="420.5" r="5.6"/><path d="M522.6 420.5h11.2M528.2 414.9v11.2"/><circle cx="534.1" cy="420.5" r="5.6"/><path d="M528.5 420.5h11.2M534.1 414.9v11.2"/><circle cx="540.0" cy="420.5" r="5.6"/><path d="M534.4 420.5h11.2M540.0 414.9v11.2"/><circle cx="545.9" cy="420.5" r="5.6"/><path d="M540.3 420.5h11.2M545.9 414.9v11.2"/><circle cx="551.7" cy="420.5" r="5.6"/><path d="M546.1 420.5h11.2M551.7 414.9v11.2"/><circle cx="557.6" cy="420.5" r="5.6"/><path d="M552.0 420.5h11.2M557.6 414.9v11.2"/><circle cx="563.5" cy="420.5" r="5.6"/><path d="M557.9 420.5h11.2M563.5 414.9v11.2"/><circle cx="569.3" cy="420.5" r="5.6"/><path d="M563.7 420.5h11.2M569.3 414.9v11.2"/><circle cx="575.2" cy="420.5" r="5.6"/><path d="M569.6 420.5h11.2M575.2 414.9v11.2"/><circle cx="581.1" cy="420.5" r="5.6"/><path d="M575.5 420.5h11.2M581.1 414.9v11.2"/><circle cx="586.9" cy="420.3" r="5.6"/><path d="M581.3 420.3h11.2M586.9 414.7v11.2"/><circle cx="592.8" cy="419.5" r="5.6"/><path d="M587.2 419.5h11.2M592.8 413.9v11.2"/><circle cx="598.7" cy="418.6" r="5.6"/><path d="M593.1 418.6h11.2M598.7 413.0v11.2"/><circle cx="604.5" cy="417.7" r="5.6"/><path d="M598.9 417.7h11.2M604.5 412.1v11.2"/><circle cx="610.4" cy="417.0" r="5.6"/><path d="M604.8 417.0h11.2M610.4 411.4v11.2"/><circle cx="616.3" cy="416.3" r="5.6"/><path d="M610.7 416.3h11.2M616.3 410.7v11.2"/><circle cx="622.1" cy="415.8" r="5.6"/><path d="M616.5 415.8h11.2M622.1 410.2v11.2"/><circle cx="628.0" cy="415.4" r="5.6"/><path d="M622.4 415.4h11.2M628.0 409.8v11.2"/><circle cx="633.9" cy="415.0" r="5.6"/><path d="M628.3 415.0h11.2M633.9 409.4v11.2"/><circle cx="639.9" cy="414.8" r="5.6"/><path d="M634.3 414.8h11.2M639.9 409.2v11.2"/><circle cx="646.0" cy="414.8" r="5.6"/><path d="M640.4 414.8h11.2M646.0 409.2v11.2"/><circle cx="652.4" cy="414.8" r="5.6"/><path d="M646.8 414.8h11.2M652.4 409.2v11.2"/><circle cx="658.9" cy="414.8" r="5.6"/><path d="M653.3 414.8h11.2M658.9 409.2v11.2"/><circle cx="665.7" cy="414.8" r="5.6"/><path d="M660.1 414.8h11.2M665.7 409.2v11.2"/><circle cx="672.6" cy="414.9" r="5.6"/><path d="M667.0 414.9h11.2M672.6 409.3v11.2"/><circle cx="679.8" cy="415.1" r="5.6"/><path d="M674.2 415.1h11.2M679.8 409.5v11.2"/><circle cx="687.2" cy="415.4" r="5.6"/><path d="M681.6 415.4h11.2M687.2 409.8v11.2"/><circle cx="694.8" cy="415.9" r="5.6"/><path d="M689.2 415.9h11.2M694.8 410.3v11.2"/><circle cx="702.7" cy="416.4" r="5.6"/><path d="M697.1 416.4h11.2M702.7 410.8v11.2"/><circle cx="710.8" cy="417.0" r="5.6"/><path d="M705.2 417.0h11.2M710.8 411.4v11.2"/><circle cx="719.1" cy="417.6" r="5.6"/><path d="M713.5 417.6h11.2M719.1 412.0v11.2"/><circle cx="727.7" cy="418.2" r="5.6"/><path d="M722.1 418.2h11.2M727.7 412.6v11.2"/><circle cx="736.6" cy="418.8" r="5.6"/><path d="M731.0 418.8h11.2M736.6 413.2v11.2"/><circle cx="745.7" cy="419.4" r="5.6"/><path d="M740.1 419.4h11.2M745.7 413.8v11.2"/><circle cx="755.2" cy="420.1" r="5.6"/><path d="M749.6 420.1h11.2M755.2 414.5v11.2"/><circle cx="764.9" cy="420.9" r="5.6"/><path d="M759.3 420.9h11.2M764.9 415.3v11.2"/><circle cx="774.9" cy="421.8" r="5.6"/><path d="M769.3 421.8h11.2M774.9 416.2v11.2"/><circle cx="785.3" cy="422.7" r="5.6"/><path d="M779.7 422.7h11.2M785.3 417.1v11.2"/><circle cx="795.9" cy="423.7" r="5.6"/><path d="M790.3 423.7h11.2M795.9 418.1v11.2"/><circle cx="806.9" cy="424.8" r="5.6"/><path d="M801.3 424.8h11.2M806.9 419.2v11.2"/></g>
</g>
<g stroke="#000" stroke-width="3.3" fill="none" stroke-linecap="butt">
<path stroke-width="3.0" d="M96.55 9.5H808.55M96.55 531.5H808.55"/>
<path stroke-width="3.3" d="M98.2 8.00V533.00M806.9 8.00V533.00"/>
<path stroke-width="3.3" d="M98.20 531.5v11.0M127.73 531.5v5.6M157.26 531.5v11.0M186.79 531.5v5.6M216.32 531.5v11.0M245.85 531.5v5.6M275.38 531.5v11.0M304.90 531.5v5.6M334.43 531.5v11.0M363.96 531.5v5.6M393.49 531.5v11.0M423.02 531.5v5.6M452.55 531.5v11.0M482.08 531.5v5.6M511.61 531.5v11.0M541.14 531.5v5.6M570.67 531.5v11.0M600.20 531.5v5.6M629.73 531.5v11.0M659.25 531.5v5.6M688.78 531.5v11.0M718.31 531.5v5.6M747.84 531.5v11.0M777.37 531.5v5.6M806.90 531.5v11.0M157.26 9.5v11.0M216.32 9.5v5.6M275.38 9.5v11.0M334.43 9.5v5.6M393.49 9.5v11.0M452.55 9.5v5.6M511.61 9.5v11.0M570.67 9.5v5.6M629.73 9.5v11.0M688.78 9.5v5.6M747.84 9.5v11.0"/>
<path stroke-width="3.0" d="M98.2 531.50h-11.0M98.2 494.21h-5.6M98.2 456.93h-11.0M98.2 419.64h-5.6M98.2 382.36h-11.0M98.2 345.07h-5.6M98.2 307.79h-11.0M98.2 270.50h-5.6M98.2 233.21h-11.0M98.2 195.93h-5.6M98.2 158.64h-11.0M98.2 121.36h-5.6M98.2 84.07h-11.0M98.2 46.79h-5.6M98.2 9.50h-11.0M806.9 158.64h-11.0M806.9 307.79h-5.6M806.9 456.93h-11.0"/>
</g>
<text transform="translate(91.91,568.00) scale(0.934,1)" font-size="24.2" font-weight="bold" stroke-width="0.7">5</text>
<text transform="translate(144.44,568.00) scale(0.934,1)" font-size="24.2" font-weight="bold" stroke-width="0.7">10</text>
<text transform="translate(203.38,568.00) scale(0.934,1)" font-size="24.2" font-weight="bold" stroke-width="0.7">15</text>
<text transform="translate(262.85,568.00) scale(0.934,1)" font-size="24.2" font-weight="bold" stroke-width="0.7">20</text>
<text transform="translate(321.79,568.00) scale(0.934,1)" font-size="24.2" font-weight="bold" stroke-width="0.7">25</text>
<text transform="translate(381.08,568.00) scale(0.934,1)" font-size="24.2" font-weight="bold" stroke-width="0.7">30</text>
<text transform="translate(440.03,568.00) scale(0.934,1)" font-size="24.2" font-weight="bold" stroke-width="0.7">35</text>
<text transform="translate(499.32,568.00) scale(0.934,1)" font-size="24.2" font-weight="bold" stroke-width="0.7">40</text>
<text transform="translate(558.26,568.00) scale(0.934,1)" font-size="24.2" font-weight="bold" stroke-width="0.7">45</text>
<text transform="translate(617.26,568.00) scale(0.934,1)" font-size="24.2" font-weight="bold" stroke-width="0.7">50</text>
<text transform="translate(676.20,568.00) scale(0.934,1)" font-size="24.2" font-weight="bold" stroke-width="0.7">55</text>
<text transform="translate(735.32,568.00) scale(0.934,1)" font-size="24.2" font-weight="bold" stroke-width="0.7">60</text>
<text transform="translate(794.26,568.00) scale(0.934,1)" font-size="24.2" font-weight="bold" stroke-width="0.7">65</text>
<text transform="translate(41.33,539.00) scale(0.934,1)" font-size="24.2" font-weight="bold" stroke-width="0.7">-2.5</text>
<text transform="translate(41.57,464.00) scale(0.934,1)" font-size="24.2" font-weight="bold" stroke-width="0.7">-2.0</text>
<text transform="translate(41.33,390.00) scale(0.934,1)" font-size="24.2" font-weight="bold" stroke-width="0.7">-1.5</text>
<text transform="translate(41.57,315.00) scale(0.934,1)" font-size="24.2" font-weight="bold" stroke-width="0.7">-1.0</text>
<text transform="translate(41.33,241.00) scale(0.934,1)" font-size="24.2" font-weight="bold" stroke-width="0.7">-0.5</text>
<text transform="translate(49.02,166.00) scale(0.934,1)" font-size="24.2" font-weight="bold" stroke-width="0.7">0.0</text>
<text transform="translate(48.79,91.00) scale(0.934,1)" font-size="24.2" font-weight="bold" stroke-width="0.7">0.5</text>
<text transform="translate(49.02,17.00) scale(0.934,1)" font-size="24.2" font-weight="bold" stroke-width="0.7">1.0</text>
<path d="M114.6 517.3H297.4" stroke="#000" stroke-width="3.1" fill="none"/>
<path d="M99.6 516.5999999999999L115.6 512.5V522.0999999999999L99.6 518.0z" fill="#000"/>
<path d="M312.4 516.5999999999999L296.4 512.5V522.0999999999999L312.4 518.0z" fill="#000"/>
<path d="M325.4 517.3H398.1" stroke="#000" stroke-width="3.1" fill="none"/>
<path d="M310.4 516.5999999999999L326.4 512.5V522.0999999999999L310.4 518.0z" fill="#000"/>
<path d="M413.1 516.5999999999999L397.1 512.5V522.0999999999999L413.1 518.0z" fill="#000"/>
<path d="M426.1 517.3H627.5" stroke="#000" stroke-width="3.1" fill="none"/>
<path d="M411.1 516.5999999999999L427.1 512.5V522.0999999999999L411.1 518.0z" fill="#000"/>
<path d="M642.5 516.5999999999999L626.5 512.5V522.0999999999999L642.5 518.0z" fill="#000"/>
<path d="M655.5 517.3H791.5" stroke="#000" stroke-width="3.1" fill="none"/>
<path d="M640.5 516.5999999999999L656.5 512.5V522.0999999999999L640.5 518.0z" fill="#000"/>
<path d="M806.5 516.5999999999999L790.5 512.5V522.0999999999999L806.5 518.0z" fill="#000"/>
<text transform="translate(156.44,503.60) scale(0.92,1)" font-size="27.5" font-weight="bold" stroke-width="0.45">Source</text>
<text transform="translate(322.40,503.70)" font-size="25" font-weight="bold" stroke-width="0.45">Pocket</text>
<text transform="translate(467.53,506.60) scale(0.972,1)" font-size="28.8" font-weight="bold" stroke-width="0.45">Channel</text>
<text transform="translate(695.30,506.30) scale(0.972,1)" font-size="28.8" font-weight="bold" stroke-width="0.45">Drain</text>
<text transform="translate(169.36,123.40) scale(0.935,1)" font-size="30" font-weight="bold" stroke-width="0.45">CB</text>
<text transform="translate(174.89,255.40) scale(0.935,1)" font-size="30" font-weight="bold" stroke-width="0.45">VB</text>
<text transform="translate(341.89,71.10) scale(0.95,1)" font-size="29.5" font-weight="bold" stroke-width="0.45">Vds=1V,Vgs=2V</text>
<text transform="translate(115.46,64.60) scale(0.93,1)" font-size="41.5" font-weight="bold" stroke-width="0.45">a</text>
<text transform="translate(364.10,613.30) scale(0.972,1)" font-size="28.8" font-weight="bold" stroke-width="0.45">Distance(nm)</text>
<path d="M494 149.2H557" stroke="#ff0000" stroke-width="3.3"/>
<circle cx="525.3" cy="149.2" r="4.6" fill="#ff0000"/>
<text transform="translate(565.10,159.00) scale(0.972,1)" font-size="28.8" font-weight="bold" stroke-width="0.45">Ec(top)</text>
<path d="M494 184.4H557" stroke="#0000ff" stroke-width="3.3"/>
<circle cx="525.3" cy="184.4" r="4.6" fill="#0000ff"/>
<text transform="translate(565.10,194.00) scale(0.972,1)" font-size="28.8" font-weight="bold" stroke-width="0.45">Ev(top)</text>
<path d="M495.2 218.7H553" stroke="#ff0000" stroke-width="4.4" stroke-dasharray="6.6 10.4"/>
<g fill="none" stroke="#ff0000" stroke-width="1.2"><circle cx="526.3" cy="218.7" r="5.3"/><path d="M521.0 218.7h10.6M526.3 213.39999999999998v10.6"/></g>
<text transform="translate(566.10,229.00) scale(0.972,1)" font-size="28.8" font-weight="bold" stroke-width="0.45">Ec(bottom)</text>
<path d="M495.2 253.9H553" stroke="#0000ff" stroke-width="4.4" stroke-dasharray="6.6 10.4"/>
<g fill="none" stroke="#0000ff" stroke-width="1.2"><circle cx="526.3" cy="253.9" r="5.3"/><path d="M521.0 253.9h10.6M526.3 248.6v10.6"/></g>
<text transform="translate(566.10,264.00) scale(0.972,1)" font-size="28.8" font-weight="bold" stroke-width="0.45">Ev(bottom)</text>
<g clip-path="url(#cr)">
<polyline points="996.4,169.0 1008.0,161.1 1019.6,157.5 1031.3,155.9 1042.9,155.1 1054.5,154.9 1066.1,154.9 1077.7,154.9 1089.4,154.9 1101.0,154.9 1112.6,154.9 1124.2,154.9 1135.9,154.9 1147.5,154.9 1159.1,154.9 1170.7,155.7 1182.3,156.6 1194.0,160.0 1205.6,112.6 1216.7,124.6 1227.1,135.2 1236.3,144.6 1244.5,152.5 1251.6,159.3 1257.4,165.6 1263.7,146.3 1269.5,150.3 1275.2,154.0 1281.0,157.7 1286.8,161.1 1292.6,164.3 1298.3,167.4 1304.1,170.3 1309.9,173.0 1315.7,175.7 1321.4,178.5 1327.2,181.2 1333.0,184.1 1338.8,186.8 1344.5,189.4 1350.3,192.0 1356.1,194.6 1361.8,197.1 1367.6,199.7 1373.4,202.3 1379.2,204.8 1384.9,207.1 1390.7,209.3 1396.5,211.2 1402.3,213.1 1408.0,214.9 1413.8,216.6 1419.6,218.3 1425.4,219.8 1431.1,221.4 1436.9,222.9 1442.7,224.3 1448.5,225.7 1454.2,227.1 1460.0,228.6 1465.8,230.1 1471.6,231.7 1477.3,233.4 1483.1,235.2 1488.9,237.2 1494.7,239.5 1500.4,242.2 1506.2,245.2 1512.0,248.4 1517.7,251.6 1523.5,254.9 1529.3,258.5 1535.1,262.1 1540.9,265.4 1547.0,268.6 1553.3,271.8 1559.7,275.1 1566.3,278.4 1573.2,281.7 1580.2,285.2 1587.5,288.7 1595.0,292.4 1602.7,296.1 1610.7,299.9 1618.9,303.6 1627.4,307.4 1636.1,311.2 1645.1,315.0 1654.4,318.8 1664.0,322.5 1673.8,326.2 1684.0,329.9 1694.5,333.5 1705.3,337.1" fill="none" stroke="#ff0000" stroke-width="3.3" stroke-linejoin="round"/>
<g fill="#ff0000"><circle cx="996.4" cy="169.0" r="4.5"/><circle cx="1008.0" cy="161.1" r="4.5"/><circle cx="1019.6" cy="157.5" r="4.5"/><circle cx="1031.3" cy="155.9" r="4.5"/><circle cx="1042.9" cy="155.1" r="4.5"/><circle cx="1054.5" cy="154.9" r="4.5"/><circle cx="1066.1" cy="154.9" r="4.5"/><circle cx="1077.7" cy="154.9" r="4.5"/><circle cx="1089.4" cy="154.9" r="4.5"/><circle cx="1101.0" cy="154.9" r="4.5"/><circle cx="1112.6" cy="154.9" r="4.5"/><circle cx="1124.2" cy="154.9" r="4.5"/><circle cx="1135.9" cy="154.9" r="4.5"/><circle cx="1147.5" cy="154.9" r="4.5"/><circle cx="1159.1" cy="154.9" r="4.5"/><circle cx="1170.7" cy="155.7" r="4.5"/><circle cx="1182.3" cy="156.6" r="4.5"/><circle cx="1194.0" cy="160.0" r="4.5"/><circle cx="1205.6" cy="112.6" r="4.5"/><circle cx="1216.7" cy="124.6" r="4.5"/><circle cx="1227.1" cy="135.2" r="4.5"/><circle cx="1236.3" cy="144.6" r="4.5"/><circle cx="1244.5" cy="152.5" r="4.5"/><circle cx="1251.6" cy="159.3" r="4.5"/><circle cx="1257.4" cy="165.6" r="4.5"/><circle cx="1263.7" cy="146.3" r="4.5"/><circle cx="1269.5" cy="150.3" r="4.5"/><circle cx="1275.2" cy="154.0" r="4.5"/><circle cx="1281.0" cy="157.7" r="4.5"/><circle cx="1286.8" cy="161.1" r="4.5"/><circle cx="1292.6" cy="164.3" r="4.5"/><circle cx="1298.3" cy="167.4" r="4.5"/><circle cx="1304.1" cy="170.3" r="4.5"/><circle cx="1309.9" cy="173.0" r="4.5"/><circle cx="1315.7" cy="175.7" r="4.5"/><circle cx="1321.4" cy="178.5" r="4.5"/><circle cx="1327.2" cy="181.2" r="4.5"/><circle cx="1333.0" cy="184.1" r="4.5"/><circle cx="1338.8" cy="186.8" r="4.5"/><circle cx="1344.5" cy="189.4" r="4.5"/><circle cx="1350.3" cy="192.0" r="4.5"/><circle cx="1356.1" cy="194.6" r="4.5"/><circle cx="1361.8" cy="197.1" r="4.5"/><circle cx="1367.6" cy="199.7" r="4.5"/><circle cx="1373.4" cy="202.3" r="4.5"/><circle cx="1379.2" cy="204.8" r="4.5"/><circle cx="1384.9" cy="207.1" r="4.5"/><circle cx="1390.7" cy="209.3" r="4.5"/><circle cx="1396.5" cy="211.2" r="4.5"/><circle cx="1402.3" cy="213.1" r="4.5"/><circle cx="1408.0" cy="214.9" r="4.5"/><circle cx="1413.8" cy="216.6" r="4.5"/><circle cx="1419.6" cy="218.3" r="4.5"/><circle cx="1425.4" cy="219.8" r="4.5"/><circle cx="1431.1" cy="221.4" r="4.5"/><circle cx="1436.9" cy="222.9" r="4.5"/><circle cx="1442.7" cy="224.3" r="4.5"/><circle cx="1448.5" cy="225.7" r="4.5"/><circle cx="1454.2" cy="227.1" r="4.5"/><circle cx="1460.0" cy="228.6" r="4.5"/><circle cx="1465.8" cy="230.1" r="4.5"/><circle cx="1471.6" cy="231.7" r="4.5"/><circle cx="1477.3" cy="233.4" r="4.5"/><circle cx="1483.1" cy="235.2" r="4.5"/><circle cx="1488.9" cy="237.2" r="4.5"/><circle cx="1494.7" cy="239.5" r="4.5"/><circle cx="1500.4" cy="242.2" r="4.5"/><circle cx="1506.2" cy="245.2" r="4.5"/><circle cx="1512.0" cy="248.4" r="4.5"/><circle cx="1517.7" cy="251.6" r="4.5"/><circle cx="1523.5" cy="254.9" r="4.5"/><circle cx="1529.3" cy="258.5" r="4.5"/><circle cx="1535.1" cy="262.1" r="4.5"/><circle cx="1540.9" cy="265.4" r="4.5"/><circle cx="1547.0" cy="268.6" r="4.5"/><circle cx="1553.3" cy="271.8" r="4.5"/><circle cx="1559.7" cy="275.1" r="4.5"/><circle cx="1566.3" cy="278.4" r="4.5"/><circle cx="1573.2" cy="281.7" r="4.5"/><circle cx="1580.2" cy="285.2" r="4.5"/><circle cx="1587.5" cy="288.7" r="4.5"/><circle cx="1595.0" cy="292.4" r="4.5"/><circle cx="1602.7" cy="296.1" r="4.5"/><circle cx="1610.7" cy="299.9" r="4.5"/><circle cx="1618.9" cy="303.6" r="4.5"/><circle cx="1627.4" cy="307.4" r="4.5"/><circle cx="1636.1" cy="311.2" r="4.5"/><circle cx="1645.1" cy="315.0" r="4.5"/><circle cx="1654.4" cy="318.8" r="4.5"/><circle cx="1664.0" cy="322.5" r="4.5"/><circle cx="1673.8" cy="326.2" r="4.5"/><circle cx="1684.0" cy="329.9" r="4.5"/><circle cx="1694.5" cy="333.5" r="4.5"/><circle cx="1705.3" cy="337.1" r="4.5"/></g>
<polyline points="996.4,214.3 1008.0,206.4 1019.6,202.8 1031.3,201.2 1042.9,200.4 1054.5,200.2 1066.1,200.2 1077.7,200.2 1089.4,200.2 1101.0,200.2 1112.6,200.2 1124.2,200.2 1135.9,200.2 1147.5,200.2 1159.1,200.2 1170.7,200.9 1182.3,201.9 1194.0,205.2 1205.6,205.5 1216.7,217.7 1227.1,228.5 1236.3,238.1 1244.5,246.2 1251.6,253.2 1257.4,259.5 1263.7,241.5 1269.5,245.5 1275.2,249.3 1281.0,252.9 1286.8,256.3 1292.6,259.6 1298.3,262.7 1304.1,265.5 1309.9,268.3 1315.7,271.0 1321.4,273.7 1327.2,276.5 1333.0,279.3 1338.8,282.1 1344.5,284.7 1350.3,287.3 1356.1,289.9 1361.8,292.4 1367.6,295.0 1373.4,297.5 1379.2,300.1 1384.9,302.4 1390.7,304.5 1396.5,306.5 1402.3,308.4 1408.0,310.2 1413.8,311.9 1419.6,313.5 1425.4,315.1 1431.1,316.6 1436.9,318.1 1442.7,319.6 1448.5,321.0 1454.2,322.4 1460.0,323.9 1465.8,325.4 1471.6,327.0 1477.3,328.7 1483.1,330.5 1488.9,332.5 1494.7,334.8 1500.4,337.5 1506.2,340.5 1512.0,343.6 1517.7,346.9 1523.5,350.2 1529.3,353.8 1535.1,357.3 1540.9,360.6 1547.0,363.9 1553.3,367.1 1559.7,370.4 1566.3,373.7 1573.2,377.0 1580.2,380.4 1587.5,384.0 1595.0,387.6 1602.7,391.4 1610.7,395.1 1618.9,398.9 1627.4,402.7 1636.1,406.5 1645.1,410.3 1654.4,414.0 1664.0,417.8 1673.8,421.5 1684.0,425.2 1694.5,428.8 1705.3,432.3" fill="none" stroke="#0000ff" stroke-width="3.3" stroke-linejoin="round"/>
<g fill="#0000ff"><circle cx="996.4" cy="214.3" r="4.5"/><circle cx="1008.0" cy="206.4" r="4.5"/><circle cx="1019.6" cy="202.8" r="4.5"/><circle cx="1031.3" cy="201.2" r="4.5"/><circle cx="1042.9" cy="200.4" r="4.5"/><circle cx="1054.5" cy="200.2" r="4.5"/><circle cx="1066.1" cy="200.2" r="4.5"/><circle cx="1077.7" cy="200.2" r="4.5"/><circle cx="1089.4" cy="200.2" r="4.5"/><circle cx="1101.0" cy="200.2" r="4.5"/><circle cx="1112.6" cy="200.2" r="4.5"/><circle cx="1124.2" cy="200.2" r="4.5"/><circle cx="1135.9" cy="200.2" r="4.5"/><circle cx="1147.5" cy="200.2" r="4.5"/><circle cx="1159.1" cy="200.2" r="4.5"/><circle cx="1170.7" cy="200.9" r="4.5"/><circle cx="1182.3" cy="201.9" r="4.5"/><circle cx="1194.0" cy="205.2" r="4.5"/><circle cx="1205.6" cy="205.5" r="4.5"/><circle cx="1216.7" cy="217.7" r="4.5"/><circle cx="1227.1" cy="228.5" r="4.5"/><circle cx="1236.3" cy="238.1" r="4.5"/><circle cx="1244.5" cy="246.2" r="4.5"/><circle cx="1251.6" cy="253.2" r="4.5"/><circle cx="1257.4" cy="259.5" r="4.5"/><circle cx="1263.7" cy="241.5" r="4.5"/><circle cx="1269.5" cy="245.5" r="4.5"/><circle cx="1275.2" cy="249.3" r="4.5"/><circle cx="1281.0" cy="252.9" r="4.5"/><circle cx="1286.8" cy="256.3" r="4.5"/><circle cx="1292.6" cy="259.6" r="4.5"/><circle cx="1298.3" cy="262.7" r="4.5"/><circle cx="1304.1" cy="265.5" r="4.5"/><circle cx="1309.9" cy="268.3" r="4.5"/><circle cx="1315.7" cy="271.0" r="4.5"/><circle cx="1321.4" cy="273.7" r="4.5"/><circle cx="1327.2" cy="276.5" r="4.5"/><circle cx="1333.0" cy="279.3" r="4.5"/><circle cx="1338.8" cy="282.1" r="4.5"/><circle cx="1344.5" cy="284.7" r="4.5"/><circle cx="1350.3" cy="287.3" r="4.5"/><circle cx="1356.1" cy="289.9" r="4.5"/><circle cx="1361.8" cy="292.4" r="4.5"/><circle cx="1367.6" cy="295.0" r="4.5"/><circle cx="1373.4" cy="297.5" r="4.5"/><circle cx="1379.2" cy="300.1" r="4.5"/><circle cx="1384.9" cy="302.4" r="4.5"/><circle cx="1390.7" cy="304.5" r="4.5"/><circle cx="1396.5" cy="306.5" r="4.5"/><circle cx="1402.3" cy="308.4" r="4.5"/><circle cx="1408.0" cy="310.2" r="4.5"/><circle cx="1413.8" cy="311.9" r="4.5"/><circle cx="1419.6" cy="313.5" r="4.5"/><circle cx="1425.4" cy="315.1" r="4.5"/><circle cx="1431.1" cy="316.6" r="4.5"/><circle cx="1436.9" cy="318.1" r="4.5"/><circle cx="1442.7" cy="319.6" r="4.5"/><circle cx="1448.5" cy="321.0" r="4.5"/><circle cx="1454.2" cy="322.4" r="4.5"/><circle cx="1460.0" cy="323.9" r="4.5"/><circle cx="1465.8" cy="325.4" r="4.5"/><circle cx="1471.6" cy="327.0" r="4.5"/><circle cx="1477.3" cy="328.7" r="4.5"/><circle cx="1483.1" cy="330.5" r="4.5"/><circle cx="1488.9" cy="332.5" r="4.5"/><circle cx="1494.7" cy="334.8" r="4.5"/><circle cx="1500.4" cy="337.5" r="4.5"/><circle cx="1506.2" cy="340.5" r="4.5"/><circle cx="1512.0" cy="343.6" r="4.5"/><circle cx="1517.7" cy="346.9" r="4.5"/><circle cx="1523.5" cy="350.2" r="4.5"/><circle cx="1529.3" cy="353.8" r="4.5"/><circle cx="1535.1" cy="357.3" r="4.5"/><circle cx="1540.9" cy="360.6" r="4.5"/><circle cx="1547.0" cy="363.9" r="4.5"/><circle cx="1553.3" cy="367.1" r="4.5"/><circle cx="1559.7" cy="370.4" r="4.5"/><circle cx="1566.3" cy="373.7" r="4.5"/><circle cx="1573.2" cy="377.0" r="4.5"/><circle cx="1580.2" cy="380.4" r="4.5"/><circle cx="1587.5" cy="384.0" r="4.5"/><circle cx="1595.0" cy="387.6" r="4.5"/><circle cx="1602.7" cy="391.4" r="4.5"/><circle cx="1610.7" cy="395.1" r="4.5"/><circle cx="1618.9" cy="398.9" r="4.5"/><circle cx="1627.4" cy="402.7" r="4.5"/><circle cx="1636.1" cy="406.5" r="4.5"/><circle cx="1645.1" cy="410.3" r="4.5"/><circle cx="1654.4" cy="414.0" r="4.5"/><circle cx="1664.0" cy="417.8" r="4.5"/><circle cx="1673.8" cy="421.5" r="4.5"/><circle cx="1684.0" cy="425.2" r="4.5"/><circle cx="1694.5" cy="428.8" r="4.5"/><circle cx="1705.3" cy="432.3" r="4.5"/></g>
<path d="M1008.0 161.1L996.4 169.0M1019.6 157.5L1008.0 161.1M1031.3 155.9L1019.6 157.5M1042.9 155.1L1031.3 155.9M1054.5 154.9L1042.9 155.1M1066.1 154.9L1054.5 154.9M1077.7 154.9L1066.1 154.9M1089.4 154.9L1077.7 154.9M1101.0 154.9L1089.4 154.9M1112.6 154.9L1101.0 154.9M1124.2 154.9L1112.6 154.9M1135.9 154.9L1124.2 154.9M1147.5 154.9L1135.9 154.9M1159.1 154.9L1147.5 154.9M1170.7 155.7L1159.1 154.9M1182.3 156.6L1170.7 155.7M1194.0 160.0L1182.3 156.6M1205.6 113.2L1194.0 160.0M1216.7 127.5L1205.6 113.2M1227.1 139.5L1216.7 127.5M1236.3 150.7L1227.1 139.5M1244.5 159.6L1236.3 150.7M1251.6 168.3L1244.5 159.6M1257.4 175.8L1251.6 168.3M1263.7 155.3L1257.4 175.8M1269.5 160.5L1263.7 155.3M1275.2 165.0L1269.5 160.5M1281.0 169.0L1275.2 165.0M1286.8 172.5L1281.0 169.0M1292.6 175.3L1286.8 172.5M1298.3 177.5L1292.6 175.3M1304.1 179.3L1298.3 177.5M1309.9 180.9L1304.1 179.3M1315.7 182.3L1309.9 180.9M1321.4 183.7L1315.7 182.3M1327.2 185.0L1321.4 183.7M1333.0 186.1L1327.2 185.0M1338.8 187.2L1333.0 186.1M1344.5 188.1L1338.8 187.2M1350.3 189.0L1344.5 188.1M1356.1 189.9L1350.3 189.0M1361.8 190.7L1356.1 189.9M1367.6 191.6L1361.8 190.7M1373.4 192.4L1367.6 191.6M1379.2 193.1L1373.4 192.4M1384.9 193.9L1379.2 193.1M1390.7 194.6L1384.9 193.9M1396.5 195.3L1390.7 194.6M1402.3 196.0L1396.5 195.3M1408.0 196.7L1402.3 196.0M1413.8 197.5L1408.0 196.7M1419.6 198.3L1413.8 197.5M1425.4 199.1L1419.6 198.3M1431.1 200.0L1425.4 199.1M1436.9 201.0L1431.1 200.0M1442.7 202.0L1436.9 201.0M1448.5 203.1L1442.7 202.0M1454.2 204.4L1448.5 203.1M1460.0 205.8L1454.2 204.4M1465.8 207.4L1460.0 205.8M1471.6 209.3L1465.8 207.4M1477.3 211.5L1471.6 209.3M1483.1 214.1L1477.3 211.5M1488.9 217.2L1483.1 214.1M1494.7 221.4L1488.9 217.2M1500.4 226.6L1494.7 221.4M1506.2 231.8L1500.4 226.6M1512.0 236.9L1506.2 231.8M1517.7 241.6L1512.0 236.9M1523.5 246.2L1517.7 241.6M1529.3 250.9L1523.5 246.2M1535.1 255.4L1529.3 250.9M1540.9 259.6L1535.1 255.4M1547.0 263.7L1540.9 259.6M1553.3 267.5L1547.0 263.7M1559.7 271.3L1553.3 267.5M1566.3 274.9L1559.7 271.3M1573.2 278.5L1566.3 274.9M1580.2 282.3L1573.2 278.5M1587.5 286.2L1580.2 282.3M1595.0 290.4L1587.5 286.2M1602.7 294.6L1595.0 290.4M1610.7 298.7L1602.7 294.6M1618.9 302.8L1610.7 298.7M1627.4 306.7L1618.9 302.8M1636.1 310.6L1627.4 306.7M1645.1 314.5L1636.1 310.6M1654.4 318.4L1645.1 314.5M1664.0 322.2L1654.4 318.4M1673.8 326.0L1664.0 322.2M1684.0 329.7L1673.8 326.0M1694.5 333.4L1684.0 329.7M1705.3 337.1L1694.5 333.4" fill="none" stroke="#ff0000" stroke-width="4.3" stroke-dasharray="6.6 10.4"/>
<g fill="none" stroke="#ff0000" stroke-width="1.1"><circle cx="996.4" cy="169.0" r="5.6"/><path d="M990.8 169.0h11.2M996.4 163.4v11.2"/><circle cx="1008.0" cy="161.1" r="5.6"/><path d="M1002.4 161.1h11.2M1008.0 155.5v11.2"/><circle cx="1019.6" cy="157.5" r="5.6"/><path d="M1014.0 157.5h11.2M1019.6 151.9v11.2"/><circle cx="1031.3" cy="155.9" r="5.6"/><path d="M1025.7 155.9h11.2M1031.3 150.3v11.2"/><circle cx="1042.9" cy="155.1" r="5.6"/><path d="M1037.3 155.1h11.2M1042.9 149.5v11.2"/><circle cx="1054.5" cy="154.9" r="5.6"/><path d="M1048.9 154.9h11.2M1054.5 149.3v11.2"/><circle cx="1066.1" cy="154.9" r="5.6"/><path d="M1060.5 154.9h11.2M1066.1 149.3v11.2"/><circle cx="1077.7" cy="154.9" r="5.6"/><path d="M1072.1 154.9h11.2M1077.7 149.3v11.2"/><circle cx="1089.4" cy="154.9" r="5.6"/><path d="M1083.8 154.9h11.2M1089.4 149.3v11.2"/><circle cx="1101.0" cy="154.9" r="5.6"/><path d="M1095.4 154.9h11.2M1101.0 149.3v11.2"/><circle cx="1112.6" cy="154.9" r="5.6"/><path d="M1107.0 154.9h11.2M1112.6 149.3v11.2"/><circle cx="1124.2" cy="154.9" r="5.6"/><path d="M1118.6 154.9h11.2M1124.2 149.3v11.2"/><circle cx="1135.9" cy="154.9" r="5.6"/><path d="M1130.3 154.9h11.2M1135.9 149.3v11.2"/><circle cx="1147.5" cy="154.9" r="5.6"/><path d="M1141.9 154.9h11.2M1147.5 149.3v11.2"/><circle cx="1159.1" cy="154.9" r="5.6"/><path d="M1153.5 154.9h11.2M1159.1 149.3v11.2"/><circle cx="1170.7" cy="155.7" r="5.6"/><path d="M1165.1 155.7h11.2M1170.7 150.1v11.2"/><circle cx="1182.3" cy="156.6" r="5.6"/><path d="M1176.7 156.6h11.2M1182.3 151.0v11.2"/><circle cx="1194.0" cy="160.0" r="5.6"/><path d="M1188.4 160.0h11.2M1194.0 154.4v11.2"/><circle cx="1205.6" cy="113.2" r="5.6"/><path d="M1200.0 113.2h11.2M1205.6 107.6v11.2"/><circle cx="1216.7" cy="127.5" r="5.6"/><path d="M1211.1 127.5h11.2M1216.7 121.9v11.2"/><circle cx="1227.1" cy="139.5" r="5.6"/><path d="M1221.5 139.5h11.2M1227.1 133.9v11.2"/><circle cx="1236.3" cy="150.7" r="5.6"/><path d="M1230.7 150.7h11.2M1236.3 145.1v11.2"/><circle cx="1244.5" cy="159.6" r="5.6"/><path d="M1238.9 159.6h11.2M1244.5 154.0v11.2"/><circle cx="1251.6" cy="168.3" r="5.6"/><path d="M1246.0 168.3h11.2M1251.6 162.7v11.2"/><circle cx="1257.4" cy="175.8" r="5.6"/><path d="M1251.8 175.8h11.2M1257.4 170.2v11.2"/><circle cx="1263.7" cy="155.3" r="5.6"/><path d="M1258.1 155.3h11.2M1263.7 149.7v11.2"/><circle cx="1269.5" cy="160.5" r="5.6"/><path d="M1263.9 160.5h11.2M1269.5 154.9v11.2"/><circle cx="1275.2" cy="165.0" r="5.6"/><path d="M1269.6 165.0h11.2M1275.2 159.4v11.2"/><circle cx="1281.0" cy="169.0" r="5.6"/><path d="M1275.4 169.0h11.2M1281.0 163.4v11.2"/><circle cx="1286.8" cy="172.5" r="5.6"/><path d="M1281.2 172.5h11.2M1286.8 166.9v11.2"/><circle cx="1292.6" cy="175.3" r="5.6"/><path d="M1287.0 175.3h11.2M1292.6 169.7v11.2"/><circle cx="1298.3" cy="177.5" r="5.6"/><path d="M1292.7 177.5h11.2M1298.3 171.9v11.2"/><circle cx="1304.1" cy="179.3" r="5.6"/><path d="M1298.5 179.3h11.2M1304.1 173.7v11.2"/><circle cx="1309.9" cy="180.9" r="5.6"/><path d="M1304.3 180.9h11.2M1309.9 175.3v11.2"/><circle cx="1315.7" cy="182.3" r="5.6"/><path d="M1310.1 182.3h11.2M1315.7 176.7v11.2"/><circle cx="1321.4" cy="183.7" r="5.6"/><path d="M1315.8 183.7h11.2M1321.4 178.1v11.2"/><circle cx="1327.2" cy="185.0" r="5.6"/><path d="M1321.6 185.0h11.2M1327.2 179.4v11.2"/><circle cx="1333.0" cy="186.1" r="5.6"/><path d="M1327.4 186.1h11.2M1333.0 180.5v11.2"/><circle cx="1338.8" cy="187.2" r="5.6"/><path d="M1333.2 187.2h11.2M1338.8 181.6v11.2"/><circle cx="1344.5" cy="188.1" r="5.6"/><path d="M1338.9 188.1h11.2M1344.5 182.5v11.2"/><circle cx="1350.3" cy="189.0" r="5.6"/><path d="M1344.7 189.0h11.2M1350.3 183.4v11.2"/><circle cx="1356.1" cy="189.9" r="5.6"/><path d="M1350.5 189.9h11.2M1356.1 184.3v11.2"/><circle cx="1361.8" cy="190.7" r="5.6"/><path d="M1356.2 190.7h11.2M1361.8 185.1v11.2"/><circle cx="1367.6" cy="191.6" r="5.6"/><path d="M1362.0 191.6h11.2M1367.6 186.0v11.2"/><circle cx="1373.4" cy="192.4" r="5.6"/><path d="M1367.8 192.4h11.2M1373.4 186.8v11.2"/><circle cx="1379.2" cy="193.1" r="5.6"/><path d="M1373.6 193.1h11.2M1379.2 187.5v11.2"/><circle cx="1384.9" cy="193.9" r="5.6"/><path d="M1379.3 193.9h11.2M1384.9 188.3v11.2"/><circle cx="1390.7" cy="194.6" r="5.6"/><path d="M1385.1 194.6h11.2M1390.7 189.0v11.2"/><circle cx="1396.5" cy="195.3" r="5.6"/><path d="M1390.9 195.3h11.2M1396.5 189.7v11.2"/><circle cx="1402.3" cy="196.0" r="5.6"/><path d="M1396.7 196.0h11.2M1402.3 190.4v11.2"/><circle cx="1408.0" cy="196.7" r="5.6"/><path d="M1402.4 196.7h11.2M1408.0 191.1v11.2"/><circle cx="1413.8" cy="197.5" r="5.6"/><path d="M1408.2 197.5h11.2M1413.8 191.9v11.2"/><circle cx="1419.6" cy="198.3" r="5.6"/><path d="M1414.0 198.3h11.2M1419.6 192.7v11.2"/><circle cx="1425.4" cy="199.1" r="5.6"/><path d="M1419.8 199.1h11.2M1425.4 193.5v11.2"/><circle cx="1431.1" cy="200.0" r="5.6"/><path d="M1425.5 200.0h11.2M1431.1 194.4v11.2"/><circle cx="1436.9" cy="201.0" r="5.6"/><path d="M1431.3 201.0h11.2M1436.9 195.4v11.2"/><circle cx="1442.7" cy="202.0" r="5.6"/><path d="M1437.1 202.0h11.2M1442.7 196.4v11.2"/><circle cx="1448.5" cy="203.1" r="5.6"/><path d="M1442.9 203.1h11.2M1448.5 197.5v11.2"/><circle cx="1454.2" cy="204.4" r="5.6"/><path d="M1448.6 204.4h11.2M1454.2 198.8v11.2"/><circle cx="1460.0" cy="205.8" r="5.6"/><path d="M1454.4 205.8h11.2M1460.0 200.2v11.2"/><circle cx="1465.8" cy="207.4" r="5.6"/><path d="M1460.2 207.4h11.2M1465.8 201.8v11.2"/><circle cx="1471.6" cy="209.3" r="5.6"/><path d="M1466.0 209.3h11.2M1471.6 203.7v11.2"/><circle cx="1477.3" cy="211.5" r="5.6"/><path d="M1471.7 211.5h11.2M1477.3 205.9v11.2"/><circle cx="1483.1" cy="214.1" r="5.6"/><path d="M1477.5 214.1h11.2M1483.1 208.5v11.2"/><circle cx="1488.9" cy="217.2" r="5.6"/><path d="M1483.3 217.2h11.2M1488.9 211.6v11.2"/><circle cx="1494.7" cy="221.4" r="5.6"/><path d="M1489.1 221.4h11.2M1494.7 215.8v11.2"/><circle cx="1500.4" cy="226.6" r="5.6"/><path d="M1494.8 226.6h11.2M1500.4 221.0v11.2"/><circle cx="1506.2" cy="231.8" r="5.6"/><path d="M1500.6 231.8h11.2M1506.2 226.2v11.2"/><circle cx="1512.0" cy="236.9" r="5.6"/><path d="M1506.4 236.9h11.2M1512.0 231.3v11.2"/><circle cx="1517.7" cy="241.6" r="5.6"/><path d="M1512.1 241.6h11.2M1517.7 236.0v11.2"/><circle cx="1523.5" cy="246.2" r="5.6"/><path d="M1517.9 246.2h11.2M1523.5 240.6v11.2"/><circle cx="1529.3" cy="250.9" r="5.6"/><path d="M1523.7 250.9h11.2M1529.3 245.3v11.2"/><circle cx="1535.1" cy="255.4" r="5.6"/><path d="M1529.5 255.4h11.2M1535.1 249.8v11.2"/><circle cx="1540.9" cy="259.6" r="5.6"/><path d="M1535.3 259.6h11.2M1540.9 254.0v11.2"/><circle cx="1547.0" cy="263.7" r="5.6"/><path d="M1541.4 263.7h11.2M1547.0 258.1v11.2"/><circle cx="1553.3" cy="267.5" r="5.6"/><path d="M1547.7 267.5h11.2M1553.3 261.9v11.2"/><circle cx="1559.7" cy="271.3" r="5.6"/><path d="M1554.1 271.3h11.2M1559.7 265.7v11.2"/><circle cx="1566.3" cy="274.9" r="5.6"/><path d="M1560.7 274.9h11.2M1566.3 269.3v11.2"/><circle cx="1573.2" cy="278.5" r="5.6"/><path d="M1567.6 278.5h11.2M1573.2 272.9v11.2"/><circle cx="1580.2" cy="282.3" r="5.6"/><path d="M1574.6 282.3h11.2M1580.2 276.7v11.2"/><circle cx="1587.5" cy="286.2" r="5.6"/><path d="M1581.9 286.2h11.2M1587.5 280.6v11.2"/><circle cx="1595.0" cy="290.4" r="5.6"/><path d="M1589.4 290.4h11.2M1595.0 284.8v11.2"/><circle cx="1602.7" cy="294.6" r="5.6"/><path d="M1597.1 294.6h11.2M1602.7 289.0v11.2"/><circle cx="1610.7" cy="298.7" r="5.6"/><path d="M1605.1 298.7h11.2M1610.7 293.1v11.2"/><circle cx="1618.9" cy="302.8" r="5.6"/><path d="M1613.3 302.8h11.2M1618.9 297.2v11.2"/><circle cx="1627.4" cy="306.7" r="5.6"/><path d="M1621.8 306.7h11.2M1627.4 301.1v11.2"/><circle cx="1636.1" cy="310.6" r="5.6"/><path d="M1630.5 310.6h11.2M1636.1 305.0v11.2"/><circle cx="1645.1" cy="314.5" r="5.6"/><path d="M1639.5 314.5h11.2M1645.1 308.9v11.2"/><circle cx="1654.4" cy="318.4" r="5.6"/><path d="M1648.8 318.4h11.2M1654.4 312.8v11.2"/><circle cx="1664.0" cy="322.2" r="5.6"/><path d="M1658.4 322.2h11.2M1664.0 316.6v11.2"/><circle cx="1673.8" cy="326.0" r="5.6"/><path d="M1668.2 326.0h11.2M1673.8 320.4v11.2"/><circle cx="1684.0" cy="329.7" r="5.6"/><path d="M1678.4 329.7h11.2M1684.0 324.1v11.2"/><circle cx="1694.5" cy="333.4" r="5.6"/><path d="M1688.9 333.4h11.2M1694.5 327.8v11.2"/><circle cx="1705.3" cy="337.1" r="5.6"/><path d="M1699.7 337.1h11.2M1705.3 331.5v11.2"/></g>
<polyline points="996.4,214.3 1008.0,206.4 1019.6,202.8 1031.3,201.2 1042.9,200.4 1054.5,200.2 1066.1,200.2 1077.7,200.2 1089.4,200.2 1101.0,200.2 1112.6,200.2 1124.2,200.2 1135.9,200.2 1147.5,200.2 1159.1,200.2 1170.7,200.9 1182.3,201.9 1194.0,205.2 1205.6,206.2 1216.7,220.6 1227.1,232.8 1236.3,244.2 1244.5,253.3 1251.6,262.2 1257.4,269.7 1263.7,250.5 1269.5,255.7 1275.2,260.3 1281.0,264.3 1286.8,267.8 1292.6,270.6 1298.3,272.8 1304.1,274.6 1309.9,276.2 1315.7,277.6 1321.4,278.9 1327.2,280.2 1333.0,281.4 1338.8,282.4 1344.5,283.4 1350.3,284.3 1356.1,285.2 1361.8,286.0 1367.6,286.8 1373.4,287.6 1379.2,288.4 1384.9,289.2 1390.7,289.9 1396.5,290.6 1402.3,291.3 1408.0,292.0 1413.8,292.7 1419.6,293.5 1425.4,294.4 1431.1,295.3 1436.9,296.2 1442.7,297.3 1448.5,298.4 1454.2,299.6 1460.0,301.0 1465.8,302.6 1471.6,304.6 1477.3,306.8 1483.1,309.4 1488.9,312.5 1494.7,316.7 1500.4,321.9 1506.2,327.0 1512.0,332.1 1517.7,336.8 1523.5,341.4 1529.3,346.1 1535.1,350.7 1540.9,354.9 1547.0,358.9 1553.3,362.8 1559.7,366.5 1566.3,370.2 1573.2,373.8 1580.2,377.6 1587.5,381.5 1595.0,385.6 1602.7,389.8 1610.7,394.0 1618.9,398.0 1627.4,402.0 1636.1,405.9 1645.1,409.8 1654.4,413.6 1664.0,417.5 1673.8,421.2 1684.0,425.0 1694.5,428.7 1705.3,432.3" fill="none" stroke="#0000ff" stroke-width="4.2" stroke-linejoin="round"/>
<g fill="none" stroke="#0000ff" stroke-width="1.1"><circle cx="996.4" cy="214.3" r="5.6"/><path d="M990.8 214.3h11.2M996.4 208.7v11.2"/><circle cx="1008.0" cy="206.4" r="5.6"/><path d="M1002.4 206.4h11.2M1008.0 200.8v11.2"/><circle cx="1019.6" cy="202.8" r="5.6"/><path d="M1014.0 202.8h11.2M1019.6 197.2v11.2"/><circle cx="1031.3" cy="201.2" r="5.6"/><path d="M1025.7 201.2h11.2M1031.3 195.6v11.2"/><circle cx="1042.9" cy="200.4" r="5.6"/><path d="M1037.3 200.4h11.2M1042.9 194.8v11.2"/><circle cx="1054.5" cy="200.2" r="5.6"/><path d="M1048.9 200.2h11.2M1054.5 194.6v11.2"/><circle cx="1066.1" cy="200.2" r="5.6"/><path d="M1060.5 200.2h11.2M1066.1 194.6v11.2"/><circle cx="1077.7" cy="200.2" r="5.6"/><path d="M1072.1 200.2h11.2M1077.7 194.6v11.2"/><circle cx="1089.4" cy="200.2" r="5.6"/><path d="M1083.8 200.2h11.2M1089.4 194.6v11.2"/><circle cx="1101.0" cy="200.2" r="5.6"/><path d="M1095.4 200.2h11.2M1101.0 194.6v11.2"/><circle cx="1112.6" cy="200.2" r="5.6"/><path d="M1107.0 200.2h11.2M1112.6 194.6v11.2"/><circle cx="1124.2" cy="200.2" r="5.6"/><path d="M1118.6 200.2h11.2M1124.2 194.6v11.2"/><circle cx="1135.9" cy="200.2" r="5.6"/><path d="M1130.3 200.2h11.2M1135.9 194.6v11.2"/><circle cx="1147.5" cy="200.2" r="5.6"/><path d="M1141.9 200.2h11.2M1147.5 194.6v11.2"/><circle cx="1159.1" cy="200.2" r="5.6"/><path d="M1153.5 200.2h11.2M1159.1 194.6v11.2"/><circle cx="1170.7" cy="200.9" r="5.6"/><path d="M1165.1 200.9h11.2M1170.7 195.3v11.2"/><circle cx="1182.3" cy="201.9" r="5.6"/><path d="M1176.7 201.9h11.2M1182.3 196.3v11.2"/><circle cx="1194.0" cy="205.2" r="5.6"/><path d="M1188.4 205.2h11.2M1194.0 199.7v11.2"/><circle cx="1205.6" cy="206.2" r="5.6"/><path d="M1200.0 206.2h11.2M1205.6 200.6v11.2"/><circle cx="1216.7" cy="220.6" r="5.6"/><path d="M1211.1 220.6h11.2M1216.7 215.0v11.2"/><circle cx="1227.1" cy="232.8" r="5.6"/><path d="M1221.5 232.8h11.2M1227.1 227.2v11.2"/><circle cx="1236.3" cy="244.2" r="5.6"/><path d="M1230.7 244.2h11.2M1236.3 238.6v11.2"/><circle cx="1244.5" cy="253.3" r="5.6"/><path d="M1238.9 253.3h11.2M1244.5 247.7v11.2"/><circle cx="1251.6" cy="262.2" r="5.6"/><path d="M1246.0 262.2h11.2M1251.6 256.6v11.2"/><circle cx="1257.4" cy="269.7" r="5.6"/><path d="M1251.8 269.7h11.2M1257.4 264.1v11.2"/><circle cx="1263.7" cy="250.5" r="5.6"/><path d="M1258.1 250.5h11.2M1263.7 244.9v11.2"/><circle cx="1269.5" cy="255.7" r="5.6"/><path d="M1263.9 255.7h11.2M1269.5 250.1v11.2"/><circle cx="1275.2" cy="260.3" r="5.6"/><path d="M1269.6 260.3h11.2M1275.2 254.7v11.2"/><circle cx="1281.0" cy="264.3" r="5.6"/><path d="M1275.4 264.3h11.2M1281.0 258.7v11.2"/><circle cx="1286.8" cy="267.8" r="5.6"/><path d="M1281.2 267.8h11.2M1286.8 262.2v11.2"/><circle cx="1292.6" cy="270.6" r="5.6"/><path d="M1287.0 270.6h11.2M1292.6 265.0v11.2"/><circle cx="1298.3" cy="272.8" r="5.6"/><path d="M1292.7 272.8h11.2M1298.3 267.2v11.2"/><circle cx="1304.1" cy="274.6" r="5.6"/><path d="M1298.5 274.6h11.2M1304.1 269.0v11.2"/><circle cx="1309.9" cy="276.2" r="5.6"/><path d="M1304.3 276.2h11.2M1309.9 270.6v11.2"/><circle cx="1315.7" cy="277.6" r="5.6"/><path d="M1310.1 277.6h11.2M1315.7 272.0v11.2"/><circle cx="1321.4" cy="278.9" r="5.6"/><path d="M1315.8 278.9h11.2M1321.4 273.3v11.2"/><circle cx="1327.2" cy="280.2" r="5.6"/><path d="M1321.6 280.2h11.2M1327.2 274.6v11.2"/><circle cx="1333.0" cy="281.4" r="5.6"/><path d="M1327.4 281.4h11.2M1333.0 275.8v11.2"/><circle cx="1338.8" cy="282.4" r="5.6"/><path d="M1333.2 282.4h11.2M1338.8 276.8v11.2"/><circle cx="1344.5" cy="283.4" r="5.6"/><path d="M1338.9 283.4h11.2M1344.5 277.8v11.2"/><circle cx="1350.3" cy="284.3" r="5.6"/><path d="M1344.7 284.3h11.2M1350.3 278.7v11.2"/><circle cx="1356.1" cy="285.2" r="5.6"/><path d="M1350.5 285.2h11.2M1356.1 279.6v11.2"/><circle cx="1361.8" cy="286.0" r="5.6"/><path d="M1356.2 286.0h11.2M1361.8 280.4v11.2"/><circle cx="1367.6" cy="286.8" r="5.6"/><path d="M1362.0 286.8h11.2M1367.6 281.2v11.2"/><circle cx="1373.4" cy="287.6" r="5.6"/><path d="M1367.8 287.6h11.2M1373.4 282.0v11.2"/><circle cx="1379.2" cy="288.4" r="5.6"/><path d="M1373.6 288.4h11.2M1379.2 282.8v11.2"/><circle cx="1384.9" cy="289.2" r="5.6"/><path d="M1379.3 289.2h11.2M1384.9 283.6v11.2"/><circle cx="1390.7" cy="289.9" r="5.6"/><path d="M1385.1 289.9h11.2M1390.7 284.3v11.2"/><circle cx="1396.5" cy="290.6" r="5.6"/><path d="M1390.9 290.6h11.2M1396.5 285.0v11.2"/><circle cx="1402.3" cy="291.3" r="5.6"/><path d="M1396.7 291.3h11.2M1402.3 285.7v11.2"/><circle cx="1408.0" cy="292.0" r="5.6"/><path d="M1402.4 292.0h11.2M1408.0 286.4v11.2"/><circle cx="1413.8" cy="292.7" r="5.6"/><path d="M1408.2 292.7h11.2M1413.8 287.1v11.2"/><circle cx="1419.6" cy="293.5" r="5.6"/><path d="M1414.0 293.5h11.2M1419.6 287.9v11.2"/><circle cx="1425.4" cy="294.4" r="5.6"/><path d="M1419.8 294.4h11.2M1425.4 288.8v11.2"/><circle cx="1431.1" cy="295.3" r="5.6"/><path d="M1425.5 295.3h11.2M1431.1 289.7v11.2"/><circle cx="1436.9" cy="296.2" r="5.6"/><path d="M1431.3 296.2h11.2M1436.9 290.6v11.2"/><circle cx="1442.7" cy="297.3" r="5.6"/><path d="M1437.1 297.3h11.2M1442.7 291.7v11.2"/><circle cx="1448.5" cy="298.4" r="5.6"/><path d="M1442.9 298.4h11.2M1448.5 292.8v11.2"/><circle cx="1454.2" cy="299.6" r="5.6"/><path d="M1448.6 299.6h11.2M1454.2 294.0v11.2"/><circle cx="1460.0" cy="301.0" r="5.6"/><path d="M1454.4 301.0h11.2M1460.0 295.4v11.2"/><circle cx="1465.8" cy="302.6" r="5.6"/><path d="M1460.2 302.6h11.2M1465.8 297.0v11.2"/><circle cx="1471.6" cy="304.6" r="5.6"/><path d="M1466.0 304.6h11.2M1471.6 299.0v11.2"/><circle cx="1477.3" cy="306.8" r="5.6"/><path d="M1471.7 306.8h11.2M1477.3 301.2v11.2"/><circle cx="1483.1" cy="309.4" r="5.6"/><path d="M1477.5 309.4h11.2M1483.1 303.8v11.2"/><circle cx="1488.9" cy="312.5" r="5.6"/><path d="M1483.3 312.5h11.2M1488.9 306.9v11.2"/><circle cx="1494.7" cy="316.7" r="5.6"/><path d="M1489.1 316.7h11.2M1494.7 311.1v11.2"/><circle cx="1500.4" cy="321.9" r="5.6"/><path d="M1494.8 321.9h11.2M1500.4 316.3v11.2"/><circle cx="1506.2" cy="327.0" r="5.6"/><path d="M1500.6 327.0h11.2M1506.2 321.4v11.2"/><circle cx="1512.0" cy="332.1" r="5.6"/><path d="M1506.4 332.1h11.2M1512.0 326.5v11.2"/><circle cx="1517.7" cy="336.8" r="5.6"/><path d="M1512.1 336.8h11.2M1517.7 331.2v11.2"/><circle cx="1523.5" cy="341.4" r="5.6"/><path d="M1517.9 341.4h11.2M1523.5 335.8v11.2"/><circle cx="1529.3" cy="346.1" r="5.6"/><path d="M1523.7 346.1h11.2M1529.3 340.5v11.2"/><circle cx="1535.1" cy="350.7" r="5.6"/><path d="M1529.5 350.7h11.2M1535.1 345.1v11.2"/><circle cx="1540.9" cy="354.9" r="5.6"/><path d="M1535.3 354.9h11.2M1540.9 349.3v11.2"/><circle cx="1547.0" cy="358.9" r="5.6"/><path d="M1541.4 358.9h11.2M1547.0 353.3v11.2"/><circle cx="1553.3" cy="362.8" r="5.6"/><path d="M1547.7 362.8h11.2M1553.3 357.2v11.2"/><circle cx="1559.7" cy="366.5" r="5.6"/><path d="M1554.1 366.5h11.2M1559.7 360.9v11.2"/><circle cx="1566.3" cy="370.2" r="5.6"/><path d="M1560.7 370.2h11.2M1566.3 364.6v11.2"/><circle cx="1573.2" cy="373.8" r="5.6"/><path d="M1567.6 373.8h11.2M1573.2 368.2v11.2"/><circle cx="1580.2" cy="377.6" r="5.6"/><path d="M1574.6 377.6h11.2M1580.2 372.0v11.2"/><circle cx="1587.5" cy="381.5" r="5.6"/><path d="M1581.9 381.5h11.2M1587.5 375.9v11.2"/><circle cx="1595.0" cy="385.6" r="5.6"/><path d="M1589.4 385.6h11.2M1595.0 380.0v11.2"/><circle cx="1602.7" cy="389.8" r="5.6"/><path d="M1597.1 389.8h11.2M1602.7 384.2v11.2"/><circle cx="1610.7" cy="394.0" r="5.6"/><path d="M1605.1 394.0h11.2M1610.7 388.4v11.2"/><circle cx="1618.9" cy="398.0" r="5.6"/><path d="M1613.3 398.0h11.2M1618.9 392.4v11.2"/><circle cx="1627.4" cy="402.0" r="5.6"/><path d="M1621.8 402.0h11.2M1627.4 396.4v11.2"/><circle cx="1636.1" cy="405.9" r="5.6"/><path d="M1630.5 405.9h11.2M1636.1 400.3v11.2"/><circle cx="1645.1" cy="409.8" r="5.6"/><path d="M1639.5 409.8h11.2M1645.1 404.2v11.2"/><circle cx="1654.4" cy="413.6" r="5.6"/><path d="M1648.8 413.6h11.2M1654.4 408.0v11.2"/><circle cx="1664.0" cy="417.5" r="5.6"/><path d="M1658.4 417.5h11.2M1664.0 411.9v11.2"/><circle cx="1673.8" cy="421.2" r="5.6"/><path d="M1668.2 421.2h11.2M1673.8 415.6v11.2"/><circle cx="1684.0" cy="425.0" r="5.6"/><path d="M1678.4 425.0h11.2M1684.0 419.4v11.2"/><circle cx="1694.5" cy="428.7" r="5.6"/><path d="M1688.9 428.7h11.2M1694.5 423.1v11.2"/><circle cx="1705.3" cy="432.3" r="5.6"/><path d="M1699.7 432.3h11.2M1705.3 426.7v11.2"/></g>
</g>
<g stroke="#000" stroke-width="3.3" fill="none" stroke-linecap="butt">
<path stroke-width="3.0" d="M994.75 9.5H1706.95M994.75 531.5H1706.95"/>
<path stroke-width="3.3" d="M996.4 8.00V533.00M1705.3 8.00V533.00"/>
<path stroke-width="3.3" d="M1008.02 531.5v10.3M1037.07 531.5v5.3M1066.13 531.5v10.3M1095.18 531.5v5.3M1124.23 531.5v10.3M1153.29 531.5v5.3M1182.34 531.5v10.3M1211.39 531.5v5.3M1240.45 531.5v10.3M1269.50 531.5v5.3M1298.55 531.5v10.3M1327.61 531.5v5.3M1356.66 531.5v10.3M1385.71 531.5v5.3M1414.77 531.5v10.3M1443.82 531.5v5.3M1472.87 531.5v10.3M1501.93 531.5v5.3M1530.98 531.5v10.3M1560.03 531.5v5.3M1589.09 531.5v10.3M1618.14 531.5v5.3M1647.19 531.5v10.3M1676.25 531.5v5.3M1705.30 531.5v10.3M1008.02 9.5v10.3M1037.07 9.5v5.3M1066.13 9.5v10.3M1095.18 9.5v5.3M1124.23 9.5v10.3M1153.29 9.5v5.3M1182.34 9.5v10.3M1211.39 9.5v5.3M1240.45 9.5v10.3M1269.50 9.5v5.3M1298.55 9.5v10.3M1327.61 9.5v5.3M1356.66 9.5v10.3M1385.71 9.5v5.3M1414.77 9.5v10.3M1443.82 9.5v5.3M1472.87 9.5v10.3M1501.93 9.5v5.3M1530.98 9.5v10.3M1560.03 9.5v5.3M1589.09 9.5v10.3M1618.14 9.5v5.3M1647.19 9.5v10.3M1676.25 9.5v5.3"/>
<path stroke-width="3.0" d="M996.4 531.50h-10.3M996.4 498.88h-5.3M996.4 466.25h-10.3M996.4 433.62h-5.3M996.4 401.00h-10.3M996.4 368.38h-5.3M996.4 335.75h-10.3M996.4 303.12h-5.3M996.4 270.50h-10.3M996.4 237.88h-5.3M996.4 205.25h-10.3M996.4 172.62h-5.3M996.4 140.00h-10.3M996.4 107.38h-5.3M996.4 74.75h-10.3M996.4 42.12h-5.3M996.4 9.50h-10.3M1705.3 498.88h-5.3M1705.3 466.25h-10.3M1705.3 433.62h-5.3M1705.3 401.00h-10.3M1705.3 368.38h-5.3M1705.3 335.75h-10.3M1705.3 303.12h-5.3M1705.3 270.50h-10.3M1705.3 237.88h-5.3M1705.3 205.25h-10.3M1705.3 172.62h-5.3M1705.3 140.00h-10.3M1705.3 107.38h-5.3M1705.3 74.75h-10.3M1705.3 42.12h-5.3"/>
</g>
<text transform="translate(1001.73,568.00) scale(0.934,1)" font-size="24.2" font-weight="bold" stroke-width="0.7">5</text>
<text transform="translate(1053.31,568.00) scale(0.934,1)" font-size="24.2" font-weight="bold" stroke-width="0.7">10</text>
<text transform="translate(1111.30,568.00) scale(0.934,1)" font-size="24.2" font-weight="bold" stroke-width="0.7">15</text>
<text transform="translate(1169.82,568.00) scale(0.934,1)" font-size="24.2" font-weight="bold" stroke-width="0.7">20</text>
<text transform="translate(1227.81,568.00) scale(0.934,1)" font-size="24.2" font-weight="bold" stroke-width="0.7">25</text>
<text transform="translate(1286.15,568.00) scale(0.934,1)" font-size="24.2" font-weight="bold" stroke-width="0.7">30</text>
<text transform="translate(1344.14,568.00) scale(0.934,1)" font-size="24.2" font-weight="bold" stroke-width="0.7">35</text>
<text transform="translate(1402.48,568.00) scale(0.934,1)" font-size="24.2" font-weight="bold" stroke-width="0.7">40</text>
<text transform="translate(1460.47,568.00) scale(0.934,1)" font-size="24.2" font-weight="bold" stroke-width="0.7">45</text>
<text transform="translate(1518.51,568.00) scale(0.934,1)" font-size="24.2" font-weight="bold" stroke-width="0.7">50</text>
<text transform="translate(1576.50,568.00) scale(0.934,1)" font-size="24.2" font-weight="bold" stroke-width="0.7">55</text>
<text transform="translate(1634.67,568.00) scale(0.934,1)" font-size="24.2" font-weight="bold" stroke-width="0.7">60</text>
<text transform="translate(1692.66,568.00) scale(0.934,1)" font-size="24.2" font-weight="bold" stroke-width="0.7">65</text>
<text transform="translate(939.73,539.00) scale(0.934,1)" font-size="24.2" font-weight="bold" stroke-width="0.7">-2.5</text>
<text transform="translate(939.97,474.00) scale(0.934,1)" font-size="24.2" font-weight="bold" stroke-width="0.7">-2.0</text>
<text transform="translate(939.73,408.00) scale(0.934,1)" font-size="24.2" font-weight="bold" stroke-width="0.7">-1.5</text>
<text transform="translate(939.97,343.00) scale(0.934,1)" font-size="24.2" font-weight="bold" stroke-width="0.7">-1.0</text>
<text transform="translate(939.73,278.00) scale(0.934,1)" font-size="24.2" font-weight="bold" stroke-width="0.7">-0.5</text>
<text transform="translate(947.42,213.00) scale(0.934,1)" font-size="24.2" font-weight="bold" stroke-width="0.7">0.0</text>
<text transform="translate(947.19,147.00) scale(0.934,1)" font-size="24.2" font-weight="bold" stroke-width="0.7">0.5</text>
<text transform="translate(947.42,82.00) scale(0.934,1)" font-size="24.2" font-weight="bold" stroke-width="0.7">1.0</text>
<text transform="translate(947.19,17.00) scale(0.934,1)" font-size="24.2" font-weight="bold" stroke-width="0.7">1.5</text>
<path d="M1012.2 499.6H1195.3" stroke="#000" stroke-width="3.1" fill="none"/>
<path d="M997.2 498.90000000000003L1013.2 494.8V504.40000000000003L997.2 500.3z" fill="#000"/>
<path d="M1210.3 498.90000000000003L1194.3 494.8V504.40000000000003L1210.3 500.3z" fill="#000"/>
<path d="M1226.6 500.6H1285.4" stroke="#000" stroke-width="3.1" fill="none"/>
<path d="M1211.6 499.90000000000003L1227.6 495.8V505.40000000000003L1211.6 501.3z" fill="#000"/>
<path d="M1300.4 499.90000000000003L1284.4 495.8V505.40000000000003L1300.4 501.3z" fill="#000"/>
<path d="M1313.4 500.7H1504.2" stroke="#000" stroke-width="3.1" fill="none"/>
<path d="M1298.4 500.0L1314.4 495.9V505.5L1298.4 501.4z" fill="#000"/>
<path d="M1519.2 500.0L1503.2 495.9V505.5L1519.2 501.4z" fill="#000"/>
<path d="M1532.2 500.7H1690.0" stroke="#000" stroke-width="3.1" fill="none"/>
<path d="M1517.2 500.0L1533.2 495.9V505.5L1517.2 501.4z" fill="#000"/>
<path d="M1705.0 500.0L1689.0 495.9V505.5L1705.0 501.4z" fill="#000"/>
<text transform="translate(1057.43,483.90) scale(0.92,1)" font-size="27.5" font-weight="bold" stroke-width="0.45">Source</text>
<text transform="translate(1214.40,484.00)" font-size="25" font-weight="bold" stroke-width="0.45">Pocket</text>
<text transform="translate(1368.53,486.50) scale(0.972,1)" font-size="28.8" font-weight="bold" stroke-width="0.45">Channel</text>
<text transform="translate(1579.70,488.80) scale(0.972,1)" font-size="28.8" font-weight="bold" stroke-width="0.45">Drain</text>
<text transform="translate(1081.06,121.40) scale(0.935,1)" font-size="30" font-weight="bold" stroke-width="0.45">CB</text>
<text transform="translate(1089.09,257.30) scale(0.935,1)" font-size="30" font-weight="bold" stroke-width="0.45">VB</text>
<text transform="translate(1108.99,56.60) scale(0.95,1)" font-size="29.5" font-weight="bold" stroke-width="0.45">Vds=1V, Vgs=0V</text>
<text transform="translate(1009.40,57.70)" font-size="40" font-weight="bold" stroke-width="0.45">b</text>
<text transform="translate(1262.30,613.30) scale(0.972,1)" font-size="28.8" font-weight="bold" stroke-width="0.45">Distance(nm)</text>
<path d="M1431 73.5H1494" stroke="#ff0000" stroke-width="3.3"/>
<circle cx="1461.9" cy="73.5" r="4.6" fill="#ff0000"/>
<text transform="translate(1502.00,83.00) scale(0.972,1)" font-size="28.8" font-weight="bold" stroke-width="0.45">Ec(top)</text>
<path d="M1431 108.1H1494" stroke="#0000ff" stroke-width="3.3"/>
<circle cx="1461.9" cy="108.1" r="4.6" fill="#0000ff"/>
<text transform="translate(1502.00,118.00) scale(0.972,1)" font-size="28.8" font-weight="bold" stroke-width="0.45">Ev(top)</text>
<path d="M1434 137.3H1492" stroke="#ff0000" stroke-width="4.4" stroke-dasharray="6.6 10.4"/>
<g fill="none" stroke="#ff0000" stroke-width="1.2"><circle cx="1464.8" cy="137.3" r="5.3"/><path d="M1459.5 137.3h10.6M1464.8 132.0v10.6"/></g>
<text transform="translate(1504.40,147.00) scale(0.972,1)" font-size="28.8" font-weight="bold" stroke-width="0.45">Ec(bottom)</text>
<path d="M1434 172.3H1496.3" stroke="#0000ff" stroke-width="4.2"/>
<g fill="none" stroke="#0000ff" stroke-width="1.2"><circle cx="1464.8" cy="172.3" r="5.3"/><path d="M1459.5 172.3h10.6M1464.8 167.0v10.6"/></g>
<text transform="translate(1504.40,182.00) scale(0.972,1)" font-size="28.8" font-weight="bold" stroke-width="0.45">Ev(bottom)</text>
<text transform="translate(20.80,401.00) rotate(-90) scale(0.972,1)" font-size="28.8" font-weight="bold" stroke-width="0.45">Band Energy (eV)</text>
<text transform="translate(919.40,401.10) rotate(-90) scale(0.972,1)" font-size="28.8" font-weight="bold" stroke-width="0.45">Band Energy(eV)</text>
<path d="M304.6 216.8H347.3M317.6 213.3L305.6 216.8L317.6 220.3M334.3 213.3L346.3 216.8L334.3 220.3" stroke="#000" stroke-width="1.9" fill="none" stroke-linejoin="miter"/>
<path d="M313.9 256.6H341.5M326.9 253.10000000000002L314.9 256.6L326.9 260.1M328.5 253.10000000000002L340.5 256.6L328.5 260.1" stroke="#000" stroke-width="1.9" fill="none" stroke-linejoin="miter"/>
<text transform="translate(303.02,198.40) scale(0.88,1)" font-size="28" font-weight="normal" style="stroke-width:0.7px">t</text>
<text transform="translate(311.20,207.80) scale(0.9,1)" font-size="16" font-weight="bold" style="stroke-width:0.0px">1</text>
<text transform="translate(319.12,241.00) scale(0.88,1)" font-size="28" font-weight="normal" style="stroke-width:0.7px">t</text>
<text transform="translate(326.19,250.80) scale(0.95,1)" font-size="16" font-weight="normal" style="stroke-width:0.6px">2</text>
</svg>
</body></html>
